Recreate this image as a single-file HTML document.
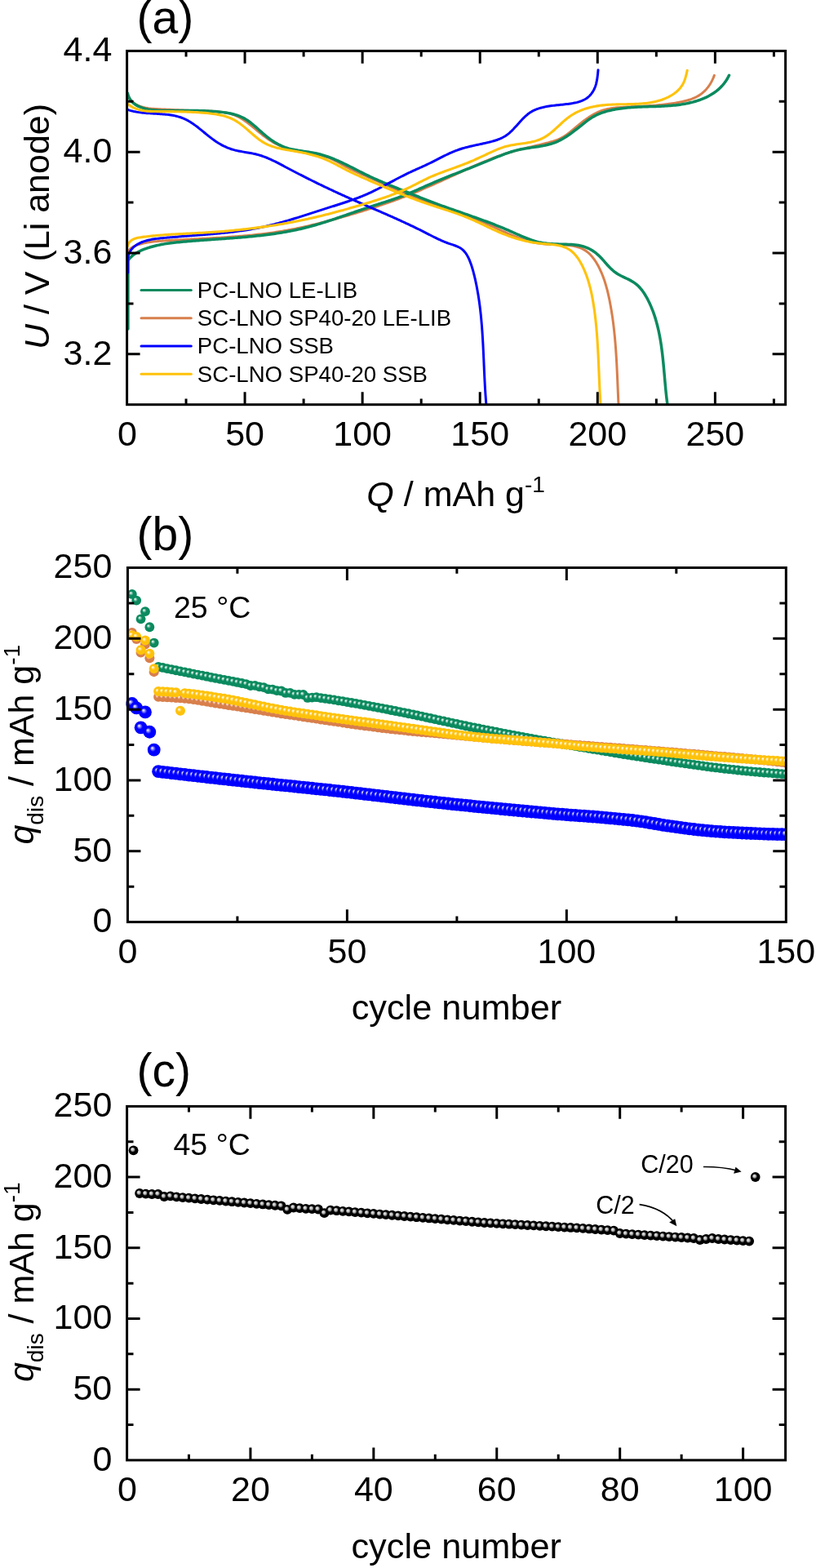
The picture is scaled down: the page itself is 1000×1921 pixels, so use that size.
<!DOCTYPE html>
<html lang="en"><head><meta charset="utf-8"><title>Figure</title><style>html,body{margin:0;padding:0;background:#fff}svg{display:block}</style></head><body><svg width="1000" height="1921" viewBox="0 0 1000 1921" font-family='"Liberation Sans", Arial, sans-serif' fill="#000"><rect width="1000" height="1921" fill="#fff"/><defs><radialGradient id="gG" cx="0.5" cy="0.5" r="0.5" fx="0.345" fy="0.345"><stop offset="0" stop-color="#f3f9f7"/><stop offset="0.09" stop-color="#daede7"/><stop offset="0.27" stop-color="#6cb99e"/><stop offset="0.46" stop-color="#0a8a5e"/><stop offset="1" stop-color="#0a8a5e"/></radialGradient><radialGradient id="gO" cx="0.5" cy="0.5" r="0.5" fx="0.345" fy="0.345"><stop offset="0" stop-color="#fdf9f6"/><stop offset="0.09" stop-color="#f9ece4"/><stop offset="0.27" stop-color="#e8b294"/><stop offset="0.46" stop-color="#d87f4c"/><stop offset="1" stop-color="#d87f4c"/></radialGradient><radialGradient id="gB" cx="0.5" cy="0.5" r="0.5" fx="0.345" fy="0.345"><stop offset="0" stop-color="#f2f2ff"/><stop offset="0.09" stop-color="#d9d9ff"/><stop offset="0.27" stop-color="#6666ff"/><stop offset="0.46" stop-color="#0000ff"/><stop offset="1" stop-color="#0000ff"/></radialGradient><radialGradient id="gY" cx="0.5" cy="0.5" r="0.5" fx="0.345" fy="0.345"><stop offset="0" stop-color="#fffcf3"/><stop offset="0.09" stop-color="#fff6da"/><stop offset="0.27" stop-color="#ffda6c"/><stop offset="0.46" stop-color="#ffc20a"/><stop offset="1" stop-color="#ffc20a"/></radialGradient><radialGradient id="gK" cx="0.5" cy="0.5" r="0.5" fx="0.36" fy="0.36"><stop offset="0" stop-color="#e6e6e6"/><stop offset="0.2" stop-color="#d0d0d0"/><stop offset="0.36" stop-color="#8a8a8a"/><stop offset="0.5" stop-color="#1a1a1a"/><stop offset="0.58" stop-color="#000"/><stop offset="1" stop-color="#000"/></radialGradient><clipPath id="clipA"><rect x="155.6" y="62.4" width="807.0" height="433.3"/></clipPath><clipPath id="clipB"><rect x="154.45" y="695.5" width="807.55" height="434.0999999999999"/></clipPath></defs>
<g fill="none" stroke-linecap="round" stroke-linejoin="round" clip-path="url(#clipA)">
<path d="M156.30,311.90L156.66,309.68L157.36,307.78L158.33,306.18L159.54,304.83L160.95,303.68L162.50,302.71L164.15,301.87L165.87,301.13L167.61,300.44L169.38,299.82L171.16,299.25L172.97,298.73L174.80,298.26L176.64,297.84L178.51,297.46L180.38,297.11L182.27,296.80L184.18,296.53L186.09,296.28L188.01,296.06L189.94,295.86L191.88,295.68L193.82,295.52L195.77,295.37L197.72,295.23L199.67,295.10L201.62,294.97L203.57,294.84L205.51,294.71L207.46,294.59L209.41,294.47L211.36,294.35L213.30,294.24L215.25,294.12L217.19,294.01L219.14,293.90L221.08,293.79L223.03,293.68L224.97,293.57L226.91,293.47L228.86,293.36L230.80,293.26L232.74,293.16L234.68,293.05L236.62,292.95L238.56,292.85L240.50,292.75L242.43,292.64L244.37,292.54L246.31,292.44L248.24,292.33L250.18,292.23L252.11,292.13L254.05,292.02L255.98,291.91L257.92,291.81L259.85,291.70L261.78,291.59L263.71,291.47L265.64,291.36L267.57,291.25L269.50,291.13L271.43,291.01L273.36,290.89L275.29,290.76L277.21,290.63L279.14,290.50L281.07,290.37L282.99,290.23L284.92,290.10L286.84,289.95L288.76,289.81L290.68,289.66L292.61,289.51L294.53,289.35L296.45,289.19L298.37,289.02L300.29,288.85L302.21,288.68L304.12,288.50L306.04,288.32L307.96,288.13L309.87,287.94L311.79,287.74L313.70,287.54L315.61,287.33L317.53,287.11L319.44,286.89L321.35,286.67L323.26,286.44L325.17,286.20L327.08,285.95L328.99,285.70L330.90,285.45L332.80,285.18L334.71,284.91L336.62,284.64L338.52,284.35L340.43,284.06L342.33,283.76L344.23,283.45L346.13,283.14L348.03,282.82L349.93,282.49L351.83,282.15L353.73,281.80L355.63,281.45L357.53,281.09L359.43,280.72L361.32,280.35L363.22,279.96L365.11,279.57L367.00,279.17L368.89,278.77L370.79,278.36L372.68,277.94L374.57,277.52L376.46,277.09L378.34,276.65L380.23,276.21L382.12,275.77L384.00,275.31L385.88,274.86L387.77,274.39L389.65,273.92L391.53,273.45L393.41,272.97L395.29,272.49L397.17,272.00L399.05,271.51L400.92,271.01L402.80,270.51L404.67,270.01L406.54,269.50L408.41,268.99L410.29,268.47L412.15,267.96L414.02,267.43L415.89,266.91L417.76,266.38L419.62,265.85L421.48,265.32L423.35,264.78L425.21,264.24L427.07,263.70L428.93,263.16L430.79,262.61L432.64,262.07L434.50,261.52L436.35,260.96L438.20,260.41L440.05,259.85L441.90,259.29L443.75,258.72L445.60,258.15L447.45,257.58L449.29,257.01L451.13,256.43L452.97,255.85L454.81,255.26L456.65,254.67L458.49,254.08L460.32,253.48L462.15,252.88L463.98,252.27L465.81,251.67L467.64,251.05L469.47,250.43L471.29,249.81L473.11,249.18L474.94,248.55L476.75,247.91L478.57,247.27L480.39,246.62L482.20,245.97L484.01,245.31L485.82,244.65L487.63,243.98L489.43,243.31L491.24,242.63L493.04,241.94L494.84,241.25L496.63,240.55L498.43,239.85L500.22,239.14L502.01,238.43L503.80,237.70L505.59,236.98L507.37,236.24L509.15,235.51L510.93,234.76L512.71,234.02L514.49,233.26L516.27,232.51L518.04,231.74L519.82,230.98L521.59,230.21L523.36,229.44L525.13,228.66L526.90,227.88L528.66,227.10L530.43,226.31L532.20,225.52L533.96,224.73L535.73,223.93L537.49,223.14L539.25,222.34L541.01,221.54L542.78,220.74L544.54,219.94L546.30,219.13L548.06,218.33L549.82,217.52L551.59,216.71L553.35,215.91L555.11,215.10L556.87,214.29L558.63,213.49L560.40,212.68L562.16,211.88L563.92,211.07L565.69,210.27L567.45,209.47L569.22,208.66L570.98,207.87L572.75,207.07L574.52,206.27L576.29,205.48L578.06,204.69L579.83,203.90L581.61,203.12L583.38,202.34L585.16,201.56L586.94,200.79L588.72,200.03L590.50,199.27L592.28,198.52L594.07,197.77L595.86,197.03L597.65,196.30L599.44,195.58L601.24,194.87L603.04,194.17L604.84,193.48L606.65,192.79L608.46,192.12L610.27,191.46L612.08,190.82L613.90,190.18L615.72,189.56L617.55,188.95L619.38,188.35L621.22,187.77L623.05,187.21L624.89,186.65L626.74,186.11L628.59,185.58L630.44,185.07L632.30,184.56L634.16,184.06L636.02,183.57L637.89,183.09L639.75,182.61L641.62,182.14L643.50,181.68L645.37,181.22L647.25,180.77L649.13,180.32L651.02,179.87L652.90,179.42L654.79,178.97L656.68,178.53L658.57,178.08L660.46,177.63L662.35,177.18L664.25,176.72L666.14,176.27L668.04,175.80L669.93,175.32L671.81,174.83L673.69,174.32L675.56,173.78L677.41,173.21L679.24,172.60L681.05,171.96L682.84,171.28L684.60,170.54L686.34,169.75L688.05,168.91L689.72,168.00L691.35,167.03L692.95,166.00L694.52,164.90L696.06,163.76L697.58,162.58L699.09,161.37L700.60,160.14L702.09,158.89L703.59,157.63L705.10,156.38L706.60,155.12L708.12,153.87L709.64,152.62L711.17,151.39L712.70,150.17L714.25,148.97L715.81,147.78L717.38,146.62L718.96,145.48L720.56,144.37L722.17,143.29L723.79,142.25L725.43,141.25L727.09,140.28L728.77,139.36L730.47,138.48L732.18,137.66L733.92,136.89L735.68,136.17L737.46,135.51L739.27,134.91L741.10,134.38L742.95,133.90L744.82,133.47L746.71,133.10L748.61,132.77L750.53,132.48L752.46,132.23L754.40,132.02L756.35,131.83L758.30,131.67L760.27,131.53L762.23,131.41L764.19,131.30L766.15,131.20L768.11,131.11L770.07,131.02L772.02,130.93L773.96,130.85L775.90,130.76L777.84,130.66L779.77,130.57L781.69,130.48L783.62,130.38L785.54,130.28L787.46,130.17L789.37,130.06L791.29,129.94L793.20,129.82L795.11,129.70L797.01,129.56L798.92,129.42L800.83,129.28L802.74,129.12L804.64,128.96L806.55,128.78L808.46,128.60L810.37,128.40L812.28,128.20L814.19,127.98L816.10,127.76L818.02,127.52L819.94,127.26L821.86,127.00L823.78,126.72L825.71,126.42L827.64,126.11L829.57,125.79L831.51,125.44L833.45,125.07L835.38,124.68L837.30,124.26L839.21,123.80L841.11,123.31L842.99,122.78L844.84,122.20L846.68,121.58L848.49,120.91L850.26,120.18L852.01,119.39L853.72,118.54L855.39,117.63L857.01,116.65L858.59,115.59L860.12,114.46L861.60,113.25L863.03,111.96L864.39,110.59L865.70,109.15L866.95,107.65L868.15,106.10L869.28,104.49L870.34,102.84L871.35,101.15L872.28,99.44L873.16,97.69L873.96,95.93L874.69,94.16L875.36,92.38" stroke="#d87f4c" stroke-width="3.0"/>
<path d="M156.32,115.96L157.29,118.02L158.38,119.91L159.57,121.63L160.85,123.19L162.23,124.61L163.69,125.88L165.23,127.03L166.85,128.04L168.54,128.94L170.29,129.74L172.10,130.43L173.96,131.03L175.87,131.54L177.82,131.98L179.80,132.35L181.81,132.66L183.85,132.91L185.91,133.12L187.97,133.29L190.05,133.44L192.13,133.56L194.20,133.67L196.26,133.78L198.31,133.88L200.35,133.98L202.37,134.08L204.39,134.18L206.40,134.28L208.40,134.37L210.40,134.47L212.39,134.56L214.37,134.65L216.35,134.74L218.33,134.82L220.30,134.91L222.27,134.99L224.25,135.07L226.22,135.15L228.19,135.23L230.16,135.31L232.14,135.38L234.12,135.45L236.11,135.52L238.10,135.59L240.09,135.66L242.10,135.72L244.11,135.78L246.13,135.84L248.16,135.90L250.20,135.96L252.25,136.01L254.31,136.07L256.38,136.14L258.45,136.21L260.52,136.30L262.58,136.41L264.65,136.54L266.71,136.70L268.76,136.89L270.80,137.12L272.83,137.38L274.84,137.69L276.83,138.04L278.80,138.45L280.75,138.91L282.68,139.43L284.57,140.01L286.44,140.66L288.27,141.38L290.07,142.17L291.84,143.03L293.58,143.95L295.30,144.93L296.99,145.96L298.66,147.04L300.30,148.17L301.93,149.33L303.55,150.53L305.15,151.76L306.74,153.02L308.32,154.30L309.89,155.59L311.46,156.89L313.03,158.20L314.59,159.52L316.16,160.83L317.74,162.13L319.32,163.42L320.91,164.70L322.50,165.95L324.12,167.18L325.75,168.38L327.39,169.54L329.05,170.68L330.73,171.77L332.42,172.84L334.13,173.87L335.86,174.86L337.60,175.82L339.36,176.74L341.14,177.63L342.93,178.48L344.74,179.29L346.56,180.07L348.40,180.81L350.25,181.51L352.12,182.17L354.01,182.80L355.91,183.38L357.83,183.93L359.76,184.44L361.71,184.90L363.67,185.33L365.65,185.72L367.64,186.08L369.64,186.41L371.64,186.72L373.65,187.02L375.67,187.30L377.69,187.59L379.71,187.87L381.72,188.17L383.73,188.47L385.74,188.80L387.74,189.15L389.72,189.52L391.70,189.94L393.66,190.39L395.60,190.89L397.53,191.44L399.43,192.05L401.32,192.71L403.18,193.44L405.02,194.23L406.85,195.06L408.66,195.93L410.46,196.83L412.24,197.77L414.02,198.73L415.80,199.70L417.57,200.69L419.34,201.67L421.11,202.66L422.89,203.64L424.67,204.60L426.46,205.54L428.25,206.46L430.06,207.36L431.87,208.25L433.68,209.12L435.50,209.97L437.33,210.82L439.16,211.65L440.99,212.48L442.83,213.29L444.67,214.11L446.51,214.92L448.35,215.72L450.19,216.53L452.03,217.34L453.87,218.15L455.71,218.96L457.55,219.78L459.39,220.59L461.23,221.41L463.07,222.22L464.91,223.04L466.75,223.86L468.60,224.67L470.44,225.49L472.28,226.30L474.12,227.11L475.97,227.93L477.81,228.74L479.65,229.55L481.50,230.35L483.35,231.16L485.20,231.96L487.04,232.76L488.90,233.56L490.75,234.35L492.60,235.14L494.45,235.93L496.31,236.71L498.17,237.49L500.03,238.26L501.89,239.03L503.75,239.80L505.62,240.56L507.48,241.31L509.35,242.06L511.22,242.80L513.10,243.54L514.97,244.27L516.85,244.99L518.73,245.71L520.62,246.42L522.50,247.12L524.39,247.82L526.28,248.51L528.17,249.19L530.07,249.86L531.97,250.53L533.87,251.19L535.77,251.85L537.68,252.50L539.58,253.15L541.49,253.79L543.40,254.44L545.30,255.08L547.21,255.72L549.12,256.36L551.03,257.00L552.94,257.64L554.85,258.29L556.75,258.93L558.66,259.58L560.56,260.23L562.47,260.88L564.37,261.54L566.27,262.20L568.17,262.87L570.06,263.55L571.96,264.23L573.85,264.92L575.74,265.62L577.62,266.33L579.50,267.05L581.38,267.77L583.25,268.51L585.12,269.26L586.99,270.02L588.85,270.80L590.70,271.58L592.55,272.38L594.40,273.19L596.24,274.02L598.08,274.85L599.92,275.68L601.76,276.53L603.59,277.38L605.42,278.23L607.25,279.08L609.08,279.94L610.91,280.79L612.74,281.64L614.57,282.49L616.40,283.33L618.23,284.16L620.07,284.99L621.91,285.81L623.75,286.61L625.60,287.41L627.44,288.19L629.30,288.96L631.16,289.71L633.02,290.44L634.89,291.15L636.76,291.84L638.65,292.52L640.54,293.16L642.43,293.79L644.34,294.38L646.25,294.95L648.18,295.49L650.11,296.00L652.05,296.48L654.00,296.93L655.97,297.34L657.94,297.71L659.93,298.05L661.93,298.35L663.94,298.61L665.96,298.83L668.00,299.00L670.05,299.15L672.10,299.27L674.17,299.36L676.23,299.44L678.30,299.51L680.37,299.57L682.44,299.63L684.51,299.69L686.57,299.77L688.63,299.86L690.68,299.97L692.72,300.10L694.74,300.27L696.75,300.48L698.75,300.73L700.73,301.03L702.68,301.38L704.62,301.80L706.54,302.27L708.42,302.82L710.28,303.45L712.10,304.15L713.86,304.95L715.57,305.85L717.22,306.85L718.80,307.95L720.32,309.15L721.79,310.42L723.19,311.78L724.54,313.21L725.83,314.71L727.07,316.28L728.26,317.89L729.40,319.56L730.50,321.26L731.55,323.01L732.56,324.78L733.52,326.58L734.45,328.39L735.34,330.22L736.19,332.06L737.01,333.92L737.80,335.78L738.55,337.66L739.27,339.55L739.96,341.45L740.62,343.36L741.25,345.28L741.86,347.21L742.44,349.14L743.00,351.08L743.54,353.03L744.05,354.99L744.55,356.95L745.02,358.91L745.48,360.88L745.92,362.85L746.35,364.83L746.76,366.81L747.16,368.78L747.55,370.77L747.92,372.75L748.29,374.73L748.64,376.71L748.99,378.70L749.32,380.68L749.64,382.67L749.95,384.66L750.25,386.65L750.55,388.64L750.83,390.63L751.10,392.62L751.37,394.61L751.62,396.60L751.87,398.60L752.11,400.59L752.34,402.59L752.56,404.59L752.78,406.58L752.99,408.58L753.19,410.58L753.38,412.58L753.57,414.58L753.75,416.58L753.92,418.58L754.09,420.59L754.25,422.59L754.40,424.59L754.56,426.60L754.70,428.60L754.84,430.61L754.97,432.62L755.10,434.62L755.23,436.63L755.35,438.64L755.47,440.65L755.58,442.66L755.69,444.67L755.80,446.68L755.90,448.69L756.01,450.70L756.10,452.71L756.20,454.72L756.29,456.73L756.39,458.74L756.48,460.76L756.56,462.77L756.65,464.78L756.74,466.80L756.82,468.81L756.91,470.82L756.99,472.84L757.08,474.85L757.16,476.87L757.24,478.88L757.33,480.89L757.41,482.91L757.50,484.92L757.59,486.94L757.67,488.95L757.76,490.97L757.86,492.98L757.95,495.00L758.05,497.01" stroke="#d87f4c" stroke-width="3.0"/>
<path d="M156.61,319.53L157.80,317.88L159.08,316.35L160.44,314.93L161.87,313.61L163.37,312.39L164.93,311.26L166.54,310.21L168.21,309.23L169.91,308.32L171.65,307.48L173.42,306.68L175.21,305.93L177.01,305.22L178.83,304.55L180.66,303.91L182.50,303.31L184.36,302.74L186.23,302.21L188.11,301.70L189.99,301.22L191.89,300.77L193.80,300.35L195.72,299.95L197.65,299.57L199.58,299.22L201.52,298.89L203.47,298.58L205.42,298.29L207.38,298.01L209.35,297.75L211.32,297.51L213.29,297.28L215.26,297.06L217.24,296.85L219.22,296.65L221.21,296.46L223.19,296.27L225.17,296.09L227.15,295.92L229.14,295.74L231.12,295.58L233.10,295.41L235.09,295.25L237.07,295.09L239.05,294.94L241.03,294.78L243.01,294.63L245.00,294.49L246.98,294.34L248.96,294.20L250.94,294.05L252.92,293.91L254.90,293.77L256.88,293.63L258.86,293.49L260.83,293.36L262.81,293.22L264.79,293.08L266.76,292.94L268.74,292.81L270.72,292.67L272.69,292.53L274.67,292.39L276.64,292.25L278.61,292.11L280.58,291.96L282.56,291.82L284.53,291.67L286.50,291.52L288.47,291.37L290.43,291.21L292.40,291.05L294.37,290.89L296.33,290.73L298.30,290.56L300.26,290.39L302.22,290.22L304.19,290.04L306.15,289.85L308.11,289.66L310.06,289.47L312.02,289.27L313.98,289.07L315.93,288.86L317.89,288.65L319.84,288.43L321.79,288.20L323.74,287.97L325.69,287.73L327.64,287.49L329.58,287.23L331.53,286.97L333.47,286.71L335.42,286.43L337.36,286.15L339.30,285.86L341.23,285.56L343.17,285.26L345.11,284.94L347.04,284.62L348.97,284.29L350.90,283.94L352.83,283.59L354.76,283.23L356.68,282.86L358.61,282.48L360.53,282.09L362.45,281.69L364.37,281.28L366.28,280.85L368.20,280.42L370.11,279.97L372.02,279.52L373.93,279.05L375.84,278.57L377.75,278.07L379.65,277.57L381.55,277.05L383.45,276.53L385.35,275.99L387.25,275.45L389.15,274.89L391.04,274.33L392.93,273.76L394.82,273.18L396.71,272.59L398.60,271.99L400.49,271.39L402.38,270.78L404.26,270.17L406.14,269.55L408.03,268.93L409.91,268.30L411.79,267.67L413.67,267.03L415.55,266.39L417.43,265.75L419.30,265.11L421.18,264.46L423.06,263.81L424.93,263.16L426.81,262.51L428.68,261.86L430.56,261.21L432.43,260.56L434.31,259.92L436.18,259.27L438.05,258.63L439.92,257.98L441.80,257.34L443.67,256.71L445.54,256.08L447.42,255.45L449.29,254.82L451.16,254.20L453.03,253.59L454.91,252.98L456.78,252.37L458.65,251.77L460.52,251.17L462.40,250.57L464.27,249.97L466.13,249.37L468.00,248.76L469.87,248.16L471.74,247.56L473.60,246.95L475.46,246.33L477.32,245.72L479.18,245.09L481.04,244.47L482.89,243.83L484.74,243.19L486.59,242.54L488.44,241.88L490.28,241.21L492.12,240.53L493.96,239.83L495.79,239.13L497.62,238.41L499.45,237.69L501.27,236.94L503.09,236.19L504.90,235.42L506.71,234.64L508.53,233.85L510.33,233.06L512.14,232.26L513.95,231.45L515.75,230.64L517.56,229.84L519.37,229.03L521.17,228.22L522.98,227.41L524.79,226.61L526.61,225.82L528.42,225.03L530.24,224.25L532.06,223.47L533.88,222.70L535.70,221.93L537.52,221.17L539.35,220.41L541.17,219.65L543.00,218.90L544.83,218.16L546.66,217.41L548.49,216.67L550.33,215.93L552.16,215.20L553.99,214.47L555.83,213.74L557.66,213.01L559.50,212.28L561.34,211.56L563.17,210.83L565.01,210.11L566.84,209.39L568.68,208.67L570.52,207.95L572.35,207.23L574.19,206.51L576.03,205.78L577.86,205.06L579.69,204.34L581.53,203.61L583.36,202.89L585.19,202.16L587.02,201.43L588.85,200.70L590.68,199.96L592.51,199.23L594.33,198.49L596.16,197.75L597.98,197.00L599.80,196.25L601.62,195.50L603.43,194.74L605.25,193.99L607.07,193.23L608.89,192.48L610.71,191.74L612.53,191.01L614.36,190.29L616.19,189.58L618.03,188.88L619.88,188.20L621.73,187.55L623.59,186.91L625.45,186.29L627.33,185.71L629.22,185.15L631.11,184.62L633.02,184.12L634.95,183.65L636.88,183.22L638.83,182.82L640.79,182.45L642.75,182.11L644.72,181.78L646.70,181.47L648.68,181.17L650.67,180.88L652.65,180.60L654.63,180.31L656.61,180.02L658.59,179.72L660.56,179.41L662.52,179.08L664.47,178.73L666.42,178.36L668.35,177.96L670.26,177.53L672.16,177.06L674.04,176.56L675.91,176.01L677.75,175.41L679.57,174.76L681.37,174.05L683.14,173.29L684.89,172.48L686.63,171.61L688.34,170.71L690.03,169.75L691.70,168.76L693.36,167.73L695.01,166.67L696.64,165.58L698.26,164.45L699.86,163.30L701.46,162.13L703.04,160.93L704.62,159.72L706.19,158.50L707.76,157.26L709.32,156.01L710.88,154.76L712.44,153.51L714.00,152.26L715.56,151.02L717.13,149.80L718.71,148.59L720.31,147.42L721.92,146.28L723.55,145.17L725.21,144.11L726.89,143.10L728.59,142.15L730.33,141.25L732.09,140.42L733.88,139.63L735.70,138.90L737.53,138.21L739.38,137.57L741.25,136.98L743.13,136.42L745.03,135.91L746.93,135.43L748.85,134.99L750.77,134.57L752.69,134.19L754.62,133.84L756.55,133.51L758.48,133.20L760.42,132.93L762.36,132.67L764.31,132.44L766.26,132.22L768.21,132.03L770.16,131.85L772.12,131.69L774.08,131.55L776.04,131.42L778.00,131.30L779.97,131.20L781.94,131.10L783.91,131.02L785.88,130.94L787.85,130.87L789.83,130.80L791.80,130.74L793.78,130.68L795.75,130.62L797.73,130.57L799.71,130.51L801.69,130.45L803.67,130.39L805.65,130.32L807.63,130.24L809.61,130.16L811.59,130.07L813.57,129.97L815.55,129.86L817.52,129.74L819.50,129.60L821.48,129.45L823.45,129.28L825.42,129.10L827.40,128.90L829.37,128.67L831.33,128.43L833.30,128.16L835.26,127.87L837.23,127.56L839.19,127.22L841.14,126.85L843.10,126.45L845.04,126.02L846.99,125.56L848.92,125.08L850.84,124.55L852.75,124.00L854.65,123.41L856.53,122.78L858.39,122.11L860.24,121.41L862.06,120.67L863.86,119.89L865.64,119.07L867.39,118.20L869.12,117.29L870.81,116.34L872.48,115.34L874.11,114.29L875.71,113.20L877.27,112.06L878.79,110.87L880.27,109.62L881.72,108.33L883.12,106.98L884.47,105.58L885.78,104.12L887.04,102.61L888.25,101.04L889.41,99.41L890.51,97.72L891.57,95.97L892.56,94.16L893.50,92.29" stroke="#0a8a5e" stroke-width="3.5"/>
<path d="M156.45,114.35L157.06,116.65L157.86,118.77L158.83,120.72L159.96,122.49L161.24,124.11L162.65,125.57L164.19,126.90L165.83,128.09L167.56,129.16L169.38,130.11L171.27,130.95L173.21,131.70L175.19,132.36L177.21,132.94L179.24,133.45L181.29,133.89L183.36,134.26L185.44,134.58L187.53,134.85L189.63,135.06L191.74,135.24L193.86,135.37L195.98,135.47L198.11,135.54L200.25,135.58L202.38,135.60L204.52,135.60L206.65,135.60L208.78,135.58L210.91,135.56L213.03,135.55L215.15,135.53L217.26,135.51L219.37,135.50L221.48,135.49L223.58,135.48L225.68,135.47L227.78,135.47L229.87,135.47L231.97,135.48L234.06,135.50L236.15,135.52L238.24,135.54L240.33,135.58L242.42,135.62L244.52,135.67L246.61,135.73L248.70,135.80L250.80,135.87L252.90,135.96L255.00,136.06L257.10,136.18L259.21,136.30L261.32,136.44L263.44,136.59L265.56,136.75L267.68,136.93L269.79,137.14L271.91,137.37L274.01,137.63L276.11,137.93L278.20,138.26L280.28,138.63L282.34,139.05L284.38,139.51L286.40,140.02L288.40,140.59L290.38,141.22L292.32,141.91L294.24,142.66L296.13,143.49L297.98,144.38L299.80,145.35L301.58,146.40L303.32,147.53L305.03,148.72L306.72,149.96L308.38,151.26L310.02,152.60L311.64,153.98L313.26,155.38L314.86,156.81L316.46,158.25L318.06,159.69L319.66,161.14L321.27,162.58L322.89,164.00L324.53,165.40L326.18,166.77L327.85,168.10L329.55,169.40L331.26,170.66L333.00,171.88L334.75,173.05L336.53,174.18L338.33,175.26L340.15,176.28L342.00,177.26L343.86,178.17L345.76,179.03L347.67,179.82L349.62,180.55L351.58,181.21L353.57,181.82L355.59,182.36L357.62,182.85L359.66,183.30L361.73,183.71L363.80,184.09L365.89,184.44L367.98,184.77L370.08,185.09L372.18,185.40L374.29,185.70L376.39,186.01L378.49,186.33L380.59,186.66L382.68,187.01L384.76,187.39L386.83,187.81L388.88,188.26L390.92,188.75L392.95,189.28L394.97,189.85L396.97,190.45L398.96,191.09L400.94,191.75L402.91,192.45L404.87,193.18L406.82,193.93L408.76,194.71L410.70,195.51L412.62,196.33L414.54,197.18L416.46,198.04L418.36,198.92L420.26,199.82L422.16,200.73L424.06,201.65L425.95,202.58L427.83,203.52L429.72,204.47L431.60,205.42L433.48,206.38L435.36,207.34L437.24,208.30L439.13,209.26L441.01,210.22L442.89,211.17L444.78,212.12L446.67,213.06L448.57,213.99L450.47,214.91L452.37,215.81L454.28,216.71L456.19,217.59L458.10,218.47L460.02,219.33L461.94,220.19L463.87,221.04L465.80,221.87L467.73,222.71L469.67,223.53L471.61,224.35L473.55,225.16L475.49,225.96L477.43,226.77L479.38,227.56L481.33,228.36L483.28,229.15L485.23,229.94L487.18,230.72L489.14,231.51L491.09,232.29L493.04,233.07L495.00,233.86L496.95,234.64L498.91,235.43L500.86,236.22L502.81,237.01L504.77,237.80L506.72,238.59L508.67,239.39L510.63,240.18L512.58,240.97L514.54,241.76L516.49,242.54L518.45,243.32L520.41,244.10L522.37,244.87L524.33,245.64L526.30,246.40L528.26,247.15L530.23,247.90L532.20,248.64L534.17,249.38L536.15,250.11L538.12,250.83L540.10,251.55L542.08,252.27L544.05,252.98L546.03,253.69L548.02,254.39L550.00,255.10L551.98,255.80L553.96,256.50L555.95,257.19L557.93,257.89L559.92,258.58L561.90,259.27L563.89,259.96L565.87,260.66L567.86,261.35L569.84,262.04L571.83,262.74L573.81,263.43L575.80,264.13L577.78,264.82L579.76,265.53L581.75,266.23L583.73,266.93L585.71,267.64L587.69,268.36L589.67,269.07L591.65,269.79L593.62,270.52L595.60,271.25L597.57,271.99L599.54,272.73L601.51,273.47L603.48,274.23L605.44,274.99L607.41,275.76L609.37,276.53L611.33,277.31L613.29,278.10L615.24,278.90L617.19,279.71L619.14,280.52L621.09,281.35L623.03,282.19L624.97,283.03L626.91,283.89L628.85,284.75L630.78,285.62L632.71,286.48L634.65,287.35L636.58,288.20L638.52,289.05L640.45,289.88L642.40,290.69L644.34,291.48L646.29,292.25L648.25,292.99L650.21,293.70L652.18,294.37L654.16,295.00L656.15,295.58L658.15,296.13L660.16,296.62L662.18,297.05L664.21,297.44L666.25,297.78L668.31,298.07L670.38,298.33L672.47,298.54L674.57,298.71L676.69,298.85L678.82,298.96L680.96,299.04L683.12,299.10L685.29,299.14L687.46,299.18L689.64,299.21L691.82,299.25L693.99,299.31L696.16,299.38L698.32,299.48L700.47,299.60L702.61,299.77L704.73,299.98L706.82,300.24L708.90,300.57L710.95,300.95L712.97,301.41L714.95,301.94L716.91,302.56L718.82,303.27L720.70,304.08L722.54,304.98L724.33,305.97L726.08,307.05L727.79,308.21L729.46,309.44L731.09,310.74L732.68,312.11L734.23,313.54L735.74,315.02L737.21,316.55L738.64,318.12L740.04,319.71L741.43,321.32L742.81,322.92L744.21,324.50L745.63,326.05L747.07,327.55L748.56,329.01L750.08,330.41L751.64,331.76L753.26,333.05L754.92,334.27L756.65,335.43L758.44,336.51L760.29,337.53L762.19,338.50L764.11,339.43L766.05,340.35L767.99,341.27L769.93,342.20L771.83,343.15L773.70,344.16L775.51,345.22L777.26,346.36L778.93,347.59L780.53,348.90L782.05,350.30L783.50,351.76L784.88,353.29L786.21,354.89L787.47,356.54L788.68,358.24L789.84,359.99L790.94,361.77L792.00,363.59L793.02,365.44L794.00,367.30L794.95,369.19L795.86,371.08L796.74,372.99L797.59,374.91L798.41,376.84L799.19,378.78L799.95,380.73L800.68,382.69L801.38,384.66L802.06,386.65L802.71,388.64L803.33,390.64L803.92,392.65L804.50,394.66L805.05,396.69L805.57,398.72L806.08,400.76L806.56,402.81L807.03,404.86L807.47,406.92L807.89,408.99L808.30,411.06L808.69,413.14L809.06,415.22L809.41,417.31L809.75,419.40L810.08,421.50L810.39,423.60L810.69,425.70L810.97,427.81L811.24,429.92L811.51,432.03L811.76,434.15L812.00,436.26L812.23,438.38L812.46,440.50L812.67,442.62L812.89,444.74L813.09,446.86L813.29,448.97L813.49,451.09L813.68,453.21L813.86,455.33L814.05,457.44L814.24,459.56L814.42,461.67L814.60,463.78L814.79,465.89L814.97,467.99L815.16,470.09L815.35,472.19L815.54,474.28L815.74,476.36L815.94,478.45L816.15,480.52L816.37,482.60L816.59,484.66L816.82,486.72L817.06,488.78L817.31,490.82L817.57,492.86L817.84,494.90L818.12,496.92" stroke="#0a8a5e" stroke-width="3.5"/>
<path d="M156.9,403V320" stroke="#0a8a5e" stroke-width="3.5"/>
<path d="M156.91,315.08L157.31,313.31L157.82,311.64L158.44,310.06L159.17,308.57L160.00,307.18L160.92,305.86L161.92,304.63L163.00,303.48L164.16,302.40L165.38,301.40L166.66,300.46L168.00,299.60L169.38,298.80L170.80,298.05L172.25,297.37L173.73,296.74L175.24,296.16L176.75,295.63L178.29,295.15L179.83,294.71L181.39,294.31L182.96,293.95L184.54,293.62L186.12,293.32L187.72,293.05L189.32,292.80L190.93,292.58L192.55,292.37L194.17,292.18L195.79,292.01L197.42,291.84L199.04,291.69L200.67,291.53L202.30,291.38L203.93,291.24L205.55,291.09L207.18,290.95L208.81,290.81L210.43,290.67L212.06,290.53L213.69,290.40L215.31,290.26L216.94,290.13L218.57,290.00L220.19,289.87L221.82,289.75L223.44,289.62L225.07,289.49L226.69,289.37L228.31,289.24L229.94,289.12L231.56,288.99L233.19,288.87L234.81,288.75L236.43,288.62L238.05,288.50L239.68,288.37L241.30,288.25L242.92,288.12L244.54,287.99L246.16,287.86L247.78,287.74L249.40,287.61L251.01,287.47L252.63,287.34L254.25,287.21L255.87,287.07L257.48,286.93L259.10,286.79L260.71,286.65L262.33,286.50L263.94,286.35L265.56,286.20L267.17,286.05L268.78,285.89L270.39,285.73L272.00,285.57L273.61,285.40L275.22,285.24L276.83,285.06L278.44,284.89L280.05,284.70L281.65,284.52L283.26,284.33L284.86,284.14L286.47,283.94L288.07,283.74L289.67,283.53L291.27,283.32L292.87,283.10L294.47,282.88L296.07,282.65L297.67,282.42L299.26,282.18L300.86,281.94L302.45,281.69L304.05,281.43L305.64,281.17L307.23,280.90L308.82,280.63L310.41,280.35L312.00,280.06L313.59,279.77L315.18,279.47L316.76,279.16L318.35,278.84L319.93,278.52L321.51,278.19L323.09,277.85L324.67,277.51L326.25,277.15L327.83,276.79L329.40,276.42L330.98,276.04L332.55,275.66L334.12,275.27L335.70,274.87L337.27,274.47L338.84,274.06L340.41,273.64L341.97,273.22L343.54,272.79L345.11,272.36L346.67,271.92L348.23,271.48L349.80,271.03L351.36,270.58L352.92,270.12L354.48,269.66L356.04,269.19L357.60,268.73L359.16,268.25L360.72,267.78L362.28,267.30L363.83,266.81L365.39,266.33L366.94,265.84L368.50,265.35L370.05,264.86L371.61,264.37L373.16,263.87L374.71,263.37L376.27,262.87L377.82,262.37L379.37,261.87L380.92,261.37L382.47,260.87L384.02,260.37L385.57,259.87L387.12,259.37L388.67,258.86L390.22,258.36L391.77,257.86L393.32,257.36L394.87,256.87L396.41,256.37L397.96,255.88L399.51,255.38L401.06,254.89L402.61,254.40L404.15,253.92L405.70,253.43L407.25,252.94L408.79,252.46L410.34,251.97L411.88,251.48L413.43,250.99L414.97,250.50L416.51,250.01L418.05,249.52L419.59,249.02L421.12,248.52L422.66,248.01L424.19,247.50L425.72,246.99L427.25,246.47L428.78,245.95L430.30,245.42L431.82,244.88L433.34,244.34L434.86,243.78L436.37,243.23L437.88,242.66L439.39,242.08L440.89,241.50L442.39,240.91L443.89,240.30L445.38,239.69L446.87,239.06L448.36,238.43L449.84,237.78L451.32,237.12L452.79,236.45L454.26,235.77L455.73,235.08L457.19,234.38L458.65,233.67L460.11,232.95L461.57,232.22L463.02,231.49L464.47,230.75L465.92,230.00L467.36,229.25L468.81,228.49L470.25,227.73L471.69,226.97L473.13,226.20L474.57,225.44L476.01,224.67L477.45,223.90L478.89,223.13L480.33,222.35L481.77,221.58L483.21,220.82L484.65,220.05L486.09,219.29L487.53,218.53L488.97,217.77L490.42,217.02L491.86,216.28L493.31,215.54L494.76,214.80L496.21,214.08L497.67,213.36L499.13,212.65L500.59,211.95L502.05,211.26L503.51,210.58L504.98,209.90L506.45,209.23L507.92,208.56L509.39,207.90L510.87,207.24L512.34,206.57L513.81,205.91L515.29,205.25L516.76,204.59L518.23,203.92L519.70,203.24L521.17,202.56L522.63,201.88L524.10,201.18L525.56,200.48L527.02,199.77L528.47,199.04L529.93,198.32L531.38,197.58L532.83,196.84L534.28,196.10L535.73,195.36L537.18,194.61L538.64,193.87L540.09,193.13L541.54,192.40L543.00,191.67L544.46,190.94L545.92,190.23L547.39,189.52L548.86,188.82L550.33,188.14L551.81,187.47L553.29,186.81L554.78,186.17L556.28,185.55L557.78,184.95L559.29,184.36L560.80,183.80L562.32,183.26L563.86,182.75L565.39,182.26L566.94,181.78L568.49,181.33L570.05,180.90L571.62,180.48L573.19,180.08L574.76,179.69L576.34,179.31L577.92,178.95L579.51,178.59L581.10,178.24L582.69,177.89L584.28,177.55L585.88,177.21L587.47,176.87L589.07,176.53L590.66,176.19L592.26,175.84L593.85,175.49L595.44,175.13L597.03,174.76L598.61,174.38L600.20,173.99L601.78,173.59L603.35,173.17L604.91,172.73L606.47,172.26L608.00,171.77L609.53,171.24L611.03,170.68L612.52,170.09L613.98,169.45L615.42,168.77L616.83,168.04L618.21,167.26L619.55,166.43L620.87,165.53L622.15,164.59L623.40,163.59L624.62,162.55L625.82,161.47L627.00,160.35L628.15,159.20L629.30,158.03L630.42,156.83L631.54,155.61L632.65,154.38L633.76,153.15L634.86,151.90L635.96,150.66L637.07,149.43L638.18,148.20L639.30,146.99L640.43,145.80L641.58,144.63L642.74,143.49L643.92,142.38L645.12,141.31L646.35,140.28L647.61,139.30L648.89,138.37L650.21,137.50L651.57,136.68L652.95,135.92L654.37,135.22L655.82,134.56L657.29,133.96L658.79,133.40L660.30,132.89L661.84,132.42L663.39,131.98L664.95,131.59L666.52,131.22L668.10,130.89L669.69,130.58L671.29,130.30L672.89,130.04L674.49,129.81L676.10,129.59L677.72,129.38L679.33,129.19L680.96,129.01L682.58,128.83L684.21,128.66L685.85,128.49L687.48,128.33L689.12,128.16L690.76,127.98L692.41,127.80L694.05,127.61L695.70,127.40L697.34,127.18L698.99,126.94L700.64,126.68L702.29,126.39L703.93,126.08L705.56,125.74L707.18,125.36L708.77,124.93L710.33,124.46L711.87,123.94L713.36,123.37L714.82,122.73L716.22,122.03L717.58,121.26L718.87,120.42L720.11,119.51L721.28,118.53L722.40,117.47L723.46,116.36L724.45,115.18L725.39,113.95L726.26,112.66L727.07,111.32L727.82,109.92L728.51,108.48L729.13,107.00L729.70,105.47L730.20,103.90L730.64,102.31L731.03,100.68L731.37,99.03L731.68,97.37L731.94,95.70L732.17,94.03L732.37,92.36L732.56,90.71L732.72,89.07L732.88,87.45L733.02,85.86" stroke="#0000ff" stroke-width="3.0"/>
<path d="M156.53,134.37L157.99,134.87L159.47,135.33L160.97,135.76L162.48,136.14L164.02,136.50L165.56,136.82L167.12,137.11L168.70,137.38L170.28,137.62L171.88,137.83L173.49,138.03L175.10,138.20L176.73,138.36L178.36,138.50L180.00,138.63L181.65,138.75L183.30,138.86L184.95,138.96L186.61,139.06L188.27,139.15L189.93,139.24L191.59,139.34L193.26,139.43L194.91,139.54L196.57,139.65L198.23,139.76L199.88,139.89L201.52,140.04L203.16,140.19L204.79,140.37L206.42,140.56L208.03,140.78L209.64,141.02L211.23,141.29L212.81,141.58L214.39,141.90L215.94,142.25L217.49,142.64L219.02,143.07L220.53,143.53L222.02,144.03L223.50,144.57L224.96,145.16L226.40,145.79L227.82,146.46L229.22,147.18L230.61,147.93L231.98,148.72L233.34,149.55L234.68,150.41L236.01,151.29L237.33,152.20L238.64,153.14L239.94,154.09L241.24,155.07L242.52,156.06L243.81,157.07L245.08,158.09L246.35,159.12L247.62,160.15L248.89,161.19L250.16,162.24L251.43,163.28L252.70,164.32L253.97,165.35L255.25,166.38L256.53,167.40L257.82,168.41L259.12,169.40L260.42,170.37L261.73,171.32L263.05,172.26L264.39,173.16L265.73,174.05L267.09,174.90L268.46,175.74L269.84,176.54L271.23,177.32L272.64,178.07L274.06,178.79L275.49,179.48L276.94,180.14L278.40,180.77L279.88,181.37L281.36,181.93L282.87,182.47L284.39,182.97L285.92,183.43L287.47,183.87L289.03,184.26L290.61,184.63L292.19,184.97L293.79,185.29L295.40,185.59L297.01,185.87L298.63,186.14L300.25,186.41L301.88,186.68L303.50,186.94L305.12,187.22L306.74,187.50L308.35,187.79L309.95,188.11L311.55,188.45L313.14,188.81L314.71,189.20L316.27,189.62L317.82,190.06L319.36,190.54L320.89,191.03L322.42,191.56L323.93,192.11L325.43,192.68L326.93,193.27L328.41,193.89L329.89,194.53L331.36,195.18L332.83,195.85L334.29,196.54L335.74,197.24L337.19,197.96L338.64,198.68L340.08,199.42L341.52,200.16L342.95,200.91L344.39,201.67L345.82,202.43L347.25,203.19L348.68,203.95L350.12,204.72L351.55,205.48L352.98,206.24L354.42,206.99L355.85,207.75L357.29,208.50L358.72,209.25L360.16,210.00L361.60,210.75L363.04,211.49L364.47,212.24L365.91,212.98L367.36,213.72L368.80,214.45L370.24,215.19L371.68,215.92L373.13,216.65L374.57,217.38L376.02,218.11L377.46,218.84L378.91,219.56L380.36,220.28L381.81,221.00L383.26,221.72L384.71,222.43L386.16,223.15L387.61,223.86L389.07,224.57L390.52,225.28L391.98,225.98L393.43,226.69L394.89,227.39L396.35,228.09L397.81,228.79L399.26,229.49L400.73,230.18L402.19,230.87L403.65,231.56L405.11,232.25L406.58,232.94L408.04,233.63L409.51,234.31L410.97,234.99L412.44,235.67L413.91,236.35L415.38,237.03L416.85,237.70L418.32,238.37L419.80,239.04L421.27,239.71L422.74,240.38L424.22,241.04L425.70,241.71L427.17,242.37L428.65,243.03L430.13,243.69L431.61,244.34L433.09,245.00L434.57,245.65L436.06,246.30L437.54,246.95L439.02,247.61L440.51,248.25L441.99,248.90L443.48,249.55L444.96,250.20L446.45,250.84L447.93,251.49L449.42,252.14L450.91,252.78L452.39,253.42L453.88,254.07L455.37,254.71L456.85,255.36L458.34,256.00L459.83,256.65L461.31,257.29L462.80,257.94L464.28,258.58L465.77,259.23L467.25,259.88L468.74,260.53L470.22,261.17L471.70,261.82L473.19,262.47L474.67,263.13L476.15,263.78L477.63,264.43L479.11,265.09L480.59,265.74L482.07,266.40L483.55,267.06L485.02,267.73L486.50,268.39L487.97,269.05L489.45,269.72L490.92,270.39L492.39,271.06L493.86,271.74L495.33,272.41L496.79,273.09L498.26,273.77L499.72,274.46L501.18,275.14L502.64,275.83L504.10,276.52L505.56,277.22L507.01,277.92L508.47,278.62L509.92,279.32L511.37,280.03L512.82,280.74L514.26,281.46L515.71,282.18L517.15,282.90L518.59,283.62L520.03,284.35L521.46,285.09L522.90,285.82L524.33,286.56L525.76,287.30L527.20,288.04L528.63,288.77L530.07,289.50L531.52,290.22L532.96,290.94L534.41,291.66L535.87,292.36L537.34,293.05L538.81,293.73L540.29,294.40L541.78,295.05L543.27,295.69L544.78,296.32L546.30,296.92L547.84,297.51L549.38,298.07L550.94,298.61L552.51,299.14L554.09,299.65L555.66,300.17L557.21,300.71L558.74,301.27L560.23,301.87L561.68,302.52L563.07,303.23L564.40,304.02L565.66,304.89L566.85,305.85L567.96,306.89L569.00,308.01L569.99,309.19L570.91,310.44L571.78,311.74L572.59,313.10L573.36,314.50L574.08,315.94L574.77,317.41L575.41,318.91L576.02,320.44L576.60,321.97L577.16,323.52L577.69,325.08L578.20,326.64L578.69,328.20L579.16,329.77L579.61,331.35L580.05,332.93L580.46,334.51L580.87,336.10L581.26,337.68L581.64,339.27L582.02,340.86L582.38,342.45L582.73,344.04L583.08,345.64L583.41,347.23L583.74,348.82L584.06,350.41L584.37,352.01L584.67,353.60L584.97,355.20L585.25,356.80L585.53,358.39L585.80,359.99L586.07,361.59L586.32,363.18L586.57,364.78L586.81,366.38L587.05,367.98L587.28,369.58L587.50,371.18L587.72,372.78L587.93,374.39L588.13,375.99L588.33,377.59L588.52,379.19L588.70,380.80L588.88,382.40L589.06,384.01L589.23,385.61L589.39,387.22L589.55,388.82L589.70,390.43L589.85,392.04L589.99,393.64L590.13,395.25L590.27,396.86L590.40,398.47L590.53,400.08L590.65,401.69L590.77,403.30L590.89,404.91L591.00,406.52L591.11,408.13L591.21,409.74L591.32,411.35L591.42,412.96L591.51,414.57L591.61,416.18L591.70,417.80L591.79,419.41L591.88,421.02L591.96,422.63L592.04,424.25L592.13,425.86L592.20,427.48L592.28,429.09L592.36,430.70L592.43,432.32L592.51,433.93L592.58,435.55L592.65,437.16L592.72,438.78L592.80,440.40L592.87,442.01L592.94,443.63L593.01,445.24L593.08,446.86L593.15,448.48L593.22,450.10L593.29,451.71L593.36,453.33L593.43,454.95L593.51,456.56L593.58,458.18L593.65,459.80L593.73,461.42L593.81,463.03L593.89,464.65L593.97,466.27L594.05,467.89L594.14,469.51L594.22,471.12L594.31,472.74L594.40,474.36L594.50,475.98L594.59,477.60L594.69,479.22L594.80,480.83L594.90,482.45L595.01,484.07L595.12,485.69L595.24,487.31L595.36,488.93L595.48,490.55L595.61,492.16L595.74,493.78L595.87,495.40L596.01,497.02" stroke="#0000ff" stroke-width="3.0"/>
<path d="M156.8,334V315" stroke="#0000ff" stroke-width="3.0"/>
<path d="M156.08,302.43L156.69,300.37L157.50,298.57L158.48,297.02L159.63,295.69L160.93,294.57L162.36,293.64L163.90,292.86L165.54,292.23L167.26,291.71L169.04,291.29L170.88,290.95L172.75,290.66L174.63,290.40L176.51,290.16L178.40,289.93L180.28,289.70L182.16,289.49L184.03,289.28L185.91,289.09L187.79,288.90L189.66,288.72L191.53,288.55L193.40,288.38L195.27,288.22L197.14,288.07L199.01,287.93L200.88,287.79L202.74,287.65L204.61,287.52L206.47,287.40L208.34,287.28L210.20,287.16L212.06,287.05L213.92,286.94L215.78,286.84L217.64,286.73L219.50,286.63L221.36,286.54L223.21,286.44L225.07,286.35L226.93,286.25L228.78,286.16L230.64,286.07L232.49,285.98L234.35,285.88L236.20,285.79L238.06,285.70L239.91,285.60L241.76,285.51L243.62,285.41L245.47,285.31L247.33,285.21L249.18,285.10L251.03,284.99L252.89,284.88L254.74,284.77L256.59,284.65L258.45,284.52L260.30,284.40L262.16,284.27L264.01,284.14L265.86,284.00L267.72,283.86L269.57,283.72L271.42,283.57L273.28,283.42L275.13,283.26L276.98,283.11L278.84,282.94L280.69,282.78L282.54,282.61L284.39,282.44L286.25,282.26L288.10,282.08L289.95,281.89L291.80,281.70L293.65,281.51L295.50,281.32L297.35,281.12L299.20,280.91L301.05,280.70L302.90,280.49L304.75,280.27L306.60,280.05L308.45,279.83L310.29,279.60L312.14,279.37L313.99,279.13L315.83,278.89L317.68,278.64L319.52,278.39L321.37,278.14L323.21,277.88L325.05,277.62L326.90,277.35L328.74,277.08L330.58,276.80L332.42,276.52L334.26,276.24L336.10,275.95L337.94,275.66L339.77,275.36L341.61,275.06L343.45,274.75L345.28,274.44L347.12,274.12L348.95,273.80L350.78,273.47L352.61,273.14L354.44,272.81L356.27,272.47L358.10,272.12L359.93,271.78L361.76,271.42L363.59,271.06L365.41,270.70L367.23,270.33L369.06,269.96L370.88,269.58L372.70,269.19L374.52,268.80L376.34,268.41L378.16,268.01L379.97,267.61L381.79,267.20L383.61,266.79L385.42,266.37L387.23,265.95L389.04,265.52L390.85,265.09L392.66,264.65L394.47,264.21L396.28,263.77L398.08,263.32L399.89,262.87L401.69,262.41L403.50,261.95L405.30,261.48L407.10,261.02L408.90,260.54L410.70,260.07L412.50,259.59L414.30,259.10L416.09,258.61L417.89,258.12L419.68,257.63L421.48,257.13L423.27,256.63L425.06,256.13L426.85,255.62L428.64,255.11L430.43,254.59L432.22,254.08L434.01,253.56L435.79,253.04L437.58,252.51L439.36,251.98L441.15,251.45L442.93,250.92L444.71,250.39L446.49,249.85L448.27,249.31L450.05,248.77L451.83,248.22L453.61,247.67L455.39,247.12L457.16,246.57L458.94,246.01L460.71,245.45L462.48,244.88L464.25,244.31L466.01,243.73L467.78,243.14L469.54,242.55L471.30,241.95L473.05,241.34L474.80,240.72L476.55,240.10L478.30,239.47L480.04,238.82L481.78,238.17L483.51,237.50L485.24,236.83L486.97,236.14L488.69,235.44L490.40,234.73L492.11,234.01L493.82,233.27L495.52,232.52L497.22,231.75L498.90,230.97L500.59,230.17L502.27,229.36L503.94,228.54L505.61,227.71L507.28,226.86L508.94,226.02L510.60,225.16L512.27,224.31L513.93,223.46L515.59,222.61L517.26,221.77L518.93,220.93L520.60,220.11L522.28,219.29L523.96,218.49L525.65,217.71L527.34,216.95L529.05,216.20L530.75,215.47L532.47,214.75L534.19,214.04L535.91,213.35L537.64,212.67L539.37,212.00L541.11,211.34L542.85,210.69L544.59,210.04L546.33,209.40L548.08,208.76L549.83,208.13L551.58,207.49L553.33,206.86L555.08,206.23L556.83,205.60L558.58,204.97L560.33,204.33L562.08,203.69L563.83,203.04L565.57,202.39L567.32,201.73L569.06,201.06L570.79,200.38L572.53,199.69L574.26,198.99L575.99,198.27L577.71,197.54L579.43,196.80L581.14,196.05L582.85,195.29L584.56,194.52L586.26,193.74L587.96,192.96L589.65,192.17L591.35,191.39L593.04,190.60L594.73,189.80L596.41,189.01L598.09,188.22L599.78,187.44L601.45,186.66L603.13,185.88L604.81,185.12L606.50,184.38L608.19,183.65L609.88,182.94L611.59,182.26L613.31,181.60L615.04,180.98L616.78,180.40L618.55,179.85L620.33,179.35L622.13,178.90L623.95,178.48L625.79,178.10L627.64,177.74L629.50,177.42L631.37,177.11L633.25,176.82L635.14,176.54L637.02,176.27L638.91,176.00L640.79,175.73L642.67,175.45L644.54,175.16L646.41,174.85L648.26,174.52L650.10,174.16L651.93,173.77L653.74,173.35L655.53,172.88L657.30,172.37L659.04,171.81L660.76,171.20L662.45,170.52L664.11,169.79L665.74,168.98L667.33,168.10L668.90,167.16L670.43,166.16L671.94,165.11L673.43,164.00L674.90,162.86L676.35,161.67L677.78,160.46L679.20,159.22L680.61,157.95L682.02,156.67L683.42,155.38L684.81,154.08L686.21,152.79L687.61,151.49L689.02,150.21L690.43,148.94L691.85,147.70L693.29,146.48L694.74,145.29L696.21,144.14L697.70,143.04L699.22,141.97L700.76,140.96L702.32,140.00L703.90,139.08L705.50,138.21L707.12,137.38L708.77,136.60L710.43,135.86L712.11,135.16L713.81,134.50L715.52,133.88L717.25,133.30L718.99,132.75L720.75,132.24L722.52,131.77L724.31,131.33L726.10,130.92L727.91,130.55L729.72,130.20L731.55,129.88L733.38,129.60L735.22,129.34L737.07,129.10L738.93,128.89L740.79,128.71L742.65,128.55L744.52,128.41L746.40,128.29L748.27,128.18L750.15,128.09L752.03,128.02L753.92,127.95L755.80,127.90L757.69,127.86L759.58,127.82L761.47,127.79L763.36,127.76L765.25,127.73L767.14,127.70L769.02,127.67L770.91,127.63L772.79,127.59L774.67,127.54L776.55,127.48L778.43,127.41L780.30,127.32L782.17,127.23L784.03,127.11L785.89,126.98L787.74,126.82L789.59,126.65L791.43,126.45L793.26,126.22L795.09,125.97L796.90,125.69L798.72,125.38L800.52,125.03L802.31,124.65L804.10,124.23L805.87,123.78L807.64,123.28L809.39,122.75L811.14,122.17L812.87,121.54L814.59,120.87L816.30,120.15L817.99,119.38L819.67,118.55L821.32,117.68L822.93,116.75L824.52,115.76L826.05,114.72L827.55,113.61L828.98,112.45L830.36,111.23L831.68,109.94L832.92,108.59L834.09,107.17L835.18,105.69L836.18,104.14L837.09,102.52L837.91,100.84L838.64,99.09L839.30,97.31L839.89,95.48L840.43,93.64L840.91,91.78L841.37,89.92L841.79,88.07L842.20,86.24" stroke="#ffc20a" stroke-width="3.1"/>
<path d="M156.23,126.88L157.71,128.19L159.25,129.37L160.84,130.42L162.48,131.36L164.17,132.19L165.90,132.92L167.67,133.57L169.47,134.13L171.30,134.62L173.16,135.04L175.04,135.39L176.94,135.69L178.87,135.93L180.81,136.13L182.76,136.28L184.73,136.40L186.71,136.48L188.70,136.53L190.69,136.57L192.68,136.58L194.68,136.59L196.67,136.59L198.66,136.58L200.64,136.58L202.62,136.59L204.59,136.59L206.56,136.60L208.52,136.62L210.48,136.63L212.44,136.65L214.39,136.68L216.34,136.71L218.29,136.75L220.23,136.79L222.17,136.84L224.11,136.89L226.05,136.95L227.99,137.01L229.93,137.09L231.87,137.16L233.81,137.25L235.75,137.34L237.69,137.45L239.63,137.55L241.57,137.67L243.52,137.80L245.46,137.93L247.41,138.08L249.37,138.23L251.32,138.39L253.28,138.57L255.24,138.76L257.20,138.96L259.15,139.19L261.10,139.44L263.05,139.71L264.99,140.02L266.91,140.35L268.83,140.72L270.73,141.13L272.62,141.58L274.49,142.07L276.34,142.60L278.17,143.19L279.98,143.83L281.77,144.52L283.53,145.26L285.26,146.07L286.96,146.94L288.64,147.88L290.28,148.88L291.90,149.93L293.50,151.04L295.07,152.19L296.63,153.38L298.17,154.61L299.70,155.86L301.21,157.14L302.72,158.44L304.22,159.75L305.72,161.06L307.22,162.38L308.72,163.69L310.22,164.99L311.74,166.28L313.26,167.54L314.80,168.78L316.35,169.98L317.91,171.15L319.50,172.28L321.12,173.35L322.75,174.37L324.42,175.33L326.11,176.23L327.84,177.06L329.59,177.83L331.38,178.54L333.18,179.20L335.01,179.81L336.86,180.37L338.73,180.90L340.62,181.38L342.52,181.83L344.43,182.25L346.36,182.65L348.30,183.02L350.24,183.38L352.19,183.72L354.15,184.05L356.10,184.37L358.06,184.70L360.01,185.02L361.96,185.35L363.91,185.69L365.85,186.04L367.78,186.40L369.71,186.78L371.63,187.17L373.54,187.57L375.45,187.99L377.34,188.44L379.23,188.90L381.12,189.38L382.99,189.88L384.85,190.40L386.71,190.95L388.56,191.52L390.40,192.12L392.23,192.74L394.05,193.39L395.86,194.07L397.66,194.78L399.45,195.52L401.23,196.30L403.00,197.10L404.76,197.93L406.51,198.78L408.26,199.66L410.00,200.55L411.74,201.45L413.47,202.37L415.21,203.29L416.94,204.21L418.67,205.13L420.41,206.06L422.14,206.97L423.88,207.88L425.63,208.77L427.38,209.65L429.13,210.51L430.89,211.36L432.65,212.20L434.42,213.03L436.19,213.85L437.96,214.66L439.74,215.46L441.52,216.26L443.30,217.05L445.09,217.84L446.87,218.62L448.66,219.40L450.45,220.19L452.23,220.97L454.02,221.75L455.81,222.52L457.60,223.30L459.39,224.08L461.19,224.86L462.98,225.63L464.77,226.40L466.57,227.17L468.36,227.94L470.16,228.71L471.96,229.48L473.76,230.24L475.56,231.00L477.36,231.76L479.16,232.51L480.96,233.26L482.77,234.01L484.57,234.76L486.38,235.50L488.19,236.24L490.00,236.97L491.81,237.71L493.63,238.43L495.44,239.15L497.26,239.87L499.08,240.59L500.90,241.29L502.72,242.00L504.54,242.70L506.37,243.39L508.19,244.08L510.02,244.76L511.85,245.44L513.68,246.11L515.52,246.77L517.35,247.43L519.19,248.08L521.03,248.73L522.87,249.37L524.72,250.00L526.57,250.62L528.41,251.24L530.26,251.85L532.12,252.46L533.97,253.07L535.82,253.67L537.68,254.27L539.53,254.87L541.39,255.47L543.24,256.07L545.09,256.67L546.95,257.28L548.80,257.89L550.65,258.50L552.50,259.12L554.35,259.74L556.19,260.37L558.04,261.01L559.88,261.66L561.71,262.32L563.55,262.99L565.38,263.67L567.21,264.36L569.03,265.07L570.85,265.79L572.66,266.52L574.47,267.27L576.28,268.04L578.08,268.83L579.88,269.63L581.67,270.44L583.46,271.26L585.24,272.09L587.02,272.93L588.80,273.77L590.58,274.62L592.36,275.47L594.13,276.32L595.90,277.17L597.68,278.02L599.45,278.86L601.22,279.70L603.00,280.53L604.77,281.35L606.55,282.15L608.33,282.95L610.11,283.73L611.89,284.50L613.68,285.25L615.47,285.99L617.26,286.72L619.06,287.43L620.86,288.12L622.67,288.80L624.48,289.46L626.30,290.10L628.12,290.73L629.95,291.33L631.79,291.92L633.64,292.49L635.49,293.03L637.35,293.56L639.22,294.06L641.10,294.55L642.98,295.00L644.88,295.44L646.79,295.85L648.70,296.24L650.63,296.61L652.57,296.95L654.52,297.26L656.49,297.55L658.46,297.81L660.45,298.04L662.45,298.25L664.46,298.44L666.47,298.61L668.49,298.78L670.50,298.95L672.51,299.13L674.51,299.32L676.49,299.53L678.46,299.76L680.41,300.03L682.34,300.34L684.24,300.70L686.11,301.10L687.94,301.57L689.74,302.11L691.49,302.71L693.20,303.40L694.86,304.17L696.47,305.04L698.03,306.00L699.53,307.07L700.97,308.23L702.36,309.47L703.69,310.80L704.98,312.21L706.21,313.69L707.40,315.23L708.53,316.83L709.63,318.49L710.67,320.19L711.68,321.93L712.64,323.71L713.57,325.51L714.45,327.34L715.30,329.18L716.11,331.04L716.89,332.90L717.64,334.76L718.35,336.62L719.03,338.49L719.68,340.35L720.31,342.22L720.90,344.09L721.47,345.97L722.02,347.84L722.53,349.72L723.03,351.60L723.50,353.48L723.96,355.37L724.39,357.25L724.80,359.14L725.20,361.03L725.58,362.93L725.94,364.83L726.29,366.73L726.63,368.63L726.95,370.53L727.26,372.44L727.56,374.35L727.85,376.27L728.14,378.19L728.41,380.11L728.67,382.03L728.92,383.95L729.17,385.88L729.40,387.81L729.63,389.74L729.85,391.67L730.06,393.61L730.26,395.55L730.45,397.49L730.64,399.43L730.82,401.37L731.00,403.32L731.16,405.26L731.32,407.21L731.48,409.16L731.63,411.11L731.77,413.06L731.91,415.01L732.04,416.97L732.17,418.92L732.29,420.88L732.41,422.84L732.53,424.79L732.64,426.75L732.74,428.71L732.85,430.67L732.95,432.63L733.05,434.59L733.14,436.55L733.23,438.51L733.32,440.47L733.41,442.43L733.50,444.39L733.59,446.35L733.67,448.31L733.75,450.26L733.83,452.22L733.92,454.18L734.00,456.14L734.08,458.09L734.16,460.05L734.24,462.01L734.33,463.96L734.41,465.91L734.50,467.87L734.58,469.82L734.67,471.77L734.76,473.71L734.85,475.66L734.95,477.61L735.05,479.55L735.15,481.49L735.25,483.43L735.36,485.37L735.47,487.31L735.58,489.24L735.70,491.17L735.82,493.10L735.95,495.03L736.08,496.96" stroke="#ffc20a" stroke-width="3.1"/>
</g>
<rect x="155.60" y="62.40" width="807.00" height="433.30" fill="none" stroke="#000" stroke-width="3.0"/>
<path d="M300.07,62.40v15.4M300.07,495.70v-15.4M444.15,62.40v15.4M444.15,495.70v-15.4M588.22,62.40v15.4M588.22,495.70v-15.4M732.30,62.40v15.4M732.30,495.70v-15.4M876.38,62.40v15.4M876.38,495.70v-15.4M228.04,62.40v7.2M228.04,495.70v-7.2M372.11,62.40v7.2M372.11,495.70v-7.2M516.19,62.40v7.2M516.19,495.70v-7.2M660.26,62.40v7.2M660.26,495.70v-7.2M804.34,62.40v7.2M804.34,495.70v-7.2M948.41,62.40v7.2M948.41,495.70v-7.2M155.60,433.80h16.0M962.60,433.80h-16.0M155.60,310.00h16.0M962.60,310.00h-16.0M155.60,186.20h16.0M962.60,186.20h-16.0M155.60,371.90h7.9M962.60,371.90h-7.9M155.60,248.10h7.9M962.60,248.10h-7.9M155.60,124.30h7.9M962.60,124.30h-7.9" stroke="#000" stroke-width="3.0" fill="none"/>
<text x="156.00" y="546.20" font-size="43" text-anchor="middle" >0</text>
<text x="300.07" y="546.20" font-size="43" text-anchor="middle" >50</text>
<text x="444.15" y="546.20" font-size="43" text-anchor="middle" >100</text>
<text x="588.22" y="546.20" font-size="43" text-anchor="middle" >150</text>
<text x="732.30" y="546.20" font-size="43" text-anchor="middle" >200</text>
<text x="876.38" y="546.20" font-size="43" text-anchor="middle" >250</text>
<text x="137.30" y="446.60" font-size="43" text-anchor="end" >3.2</text>
<text x="137.30" y="322.80" font-size="43" text-anchor="end" >3.6</text>
<text x="137.30" y="199.00" font-size="43" text-anchor="end" >4.0</text>
<text x="137.30" y="75.20" font-size="43" text-anchor="end" >4.4</text>
<text x="167.50" y="41.30" font-size="57" text-anchor="start" >(a)</text>
<text x="558.6" y="620.4" font-size="43" text-anchor="middle"><tspan font-style="italic">Q</tspan> / mAh g<tspan font-size="28" dy="-17">-1</tspan></text>
<text transform="translate(60.3,277.5) rotate(-90)" font-size="43" text-anchor="middle"><tspan font-style="italic">U</tspan> / V (Li anode)</text>
<path d="M173.0,355.60H234.3" stroke="#0a8a5e" stroke-width="3" stroke-linecap="round"/>
<text x="241.80" y="364.90" font-size="27.6" text-anchor="start" >PC-LNO LE-LIB</text>
<path d="M173.0,389.80H234.3" stroke="#d87f4c" stroke-width="3" stroke-linecap="round"/>
<text x="241.80" y="399.10" font-size="27.6" text-anchor="start" >SC-LNO SP40-20 LE-LIB</text>
<path d="M173.0,424.00H234.3" stroke="#0000ff" stroke-width="3" stroke-linecap="round"/>
<text x="241.80" y="433.30" font-size="27.6" text-anchor="start" >PC-LNO SSB</text>
<path d="M173.0,458.20H234.3" stroke="#ffc20a" stroke-width="3" stroke-linecap="round"/>
<text x="241.80" y="467.50" font-size="27.6" text-anchor="start" >SC-LNO SP40-20 SSB</text>
<g clip-path="url(#clipB)">
<g fill="url(#gG)"><circle cx="161.83" cy="727.97" r="5.9"/><circle cx="167.21" cy="735.61" r="5.9"/><circle cx="172.59" cy="758.36" r="5.9"/><circle cx="177.97" cy="749.15" r="5.9"/><circle cx="183.34" cy="768.26" r="5.9"/><circle cx="188.72" cy="787.53" r="5.9"/><circle cx="194.10" cy="816.87" r="5.9"/><circle cx="199.48" cy="817.97" r="5.9"/><circle cx="204.86" cy="819.07" r="5.9"/><circle cx="210.24" cy="820.15" r="5.9"/><circle cx="215.62" cy="821.24" r="5.9"/><circle cx="221.00" cy="822.32" r="5.9"/><circle cx="226.38" cy="823.40" r="5.9"/><circle cx="231.76" cy="824.47" r="5.9"/><circle cx="237.13" cy="825.54" r="5.9"/><circle cx="242.51" cy="826.60" r="5.9"/><circle cx="247.89" cy="827.66" r="5.9"/><circle cx="253.27" cy="828.72" r="5.9"/><circle cx="258.65" cy="829.78" r="5.9"/><circle cx="264.03" cy="830.83" r="5.9"/><circle cx="269.41" cy="831.88" r="5.9"/><circle cx="274.79" cy="832.91" r="5.9"/><circle cx="280.17" cy="833.93" r="5.9"/><circle cx="285.55" cy="834.95" r="5.9"/><circle cx="290.92" cy="835.97" r="5.9"/><circle cx="296.30" cy="837.00" r="5.9"/><circle cx="301.68" cy="838.06" r="5.9"/><circle cx="307.06" cy="840.02" r="5.9"/><circle cx="312.44" cy="839.93" r="5.9"/><circle cx="317.82" cy="841.43" r="5.9"/><circle cx="323.20" cy="842.07" r="5.9"/><circle cx="328.58" cy="844.45" r="5.9"/><circle cx="333.96" cy="844.57" r="5.9"/><circle cx="339.34" cy="846.06" r="5.9"/><circle cx="344.71" cy="846.48" r="5.9"/><circle cx="350.09" cy="848.96" r="5.9"/><circle cx="355.47" cy="848.81" r="5.9"/><circle cx="360.85" cy="850.92" r="5.9"/><circle cx="366.23" cy="850.92" r="5.9"/><circle cx="371.61" cy="851.00" r="5.9"/><circle cx="376.99" cy="854.96" r="5.9"/><circle cx="382.37" cy="854.62" r="5.9"/><circle cx="387.75" cy="854.21" r="5.9"/><circle cx="393.13" cy="855.18" r="5.9"/><circle cx="398.50" cy="855.87" r="5.9"/><circle cx="403.88" cy="856.64" r="5.9"/><circle cx="409.26" cy="857.45" r="5.9"/><circle cx="414.64" cy="858.30" r="5.9"/><circle cx="420.02" cy="859.17" r="5.9"/><circle cx="425.40" cy="860.07" r="5.9"/><circle cx="430.78" cy="860.99" r="5.9"/><circle cx="436.16" cy="861.94" r="5.9"/><circle cx="441.54" cy="862.91" r="5.9"/><circle cx="446.92" cy="863.89" r="5.9"/><circle cx="452.29" cy="864.88" r="5.9"/><circle cx="457.67" cy="865.89" r="5.9"/><circle cx="463.05" cy="866.91" r="5.9"/><circle cx="468.43" cy="867.93" r="5.9"/><circle cx="473.81" cy="868.95" r="5.9"/><circle cx="479.19" cy="869.98" r="5.9"/><circle cx="484.57" cy="871.01" r="5.9"/><circle cx="489.95" cy="872.07" r="5.9"/><circle cx="495.33" cy="873.15" r="5.9"/><circle cx="500.71" cy="874.25" r="5.9"/><circle cx="506.08" cy="875.36" r="5.9"/><circle cx="511.46" cy="876.50" r="5.9"/><circle cx="516.84" cy="877.64" r="5.9"/><circle cx="522.22" cy="878.80" r="5.9"/><circle cx="527.60" cy="879.96" r="5.9"/><circle cx="532.98" cy="881.13" r="5.9"/><circle cx="538.36" cy="882.30" r="5.9"/><circle cx="543.74" cy="883.47" r="5.9"/><circle cx="549.12" cy="884.64" r="5.9"/><circle cx="554.50" cy="885.80" r="5.9"/><circle cx="559.88" cy="886.95" r="5.9"/><circle cx="565.25" cy="888.10" r="5.9"/><circle cx="570.63" cy="889.23" r="5.9"/><circle cx="576.01" cy="890.34" r="5.9"/><circle cx="581.39" cy="891.44" r="5.9"/><circle cx="586.77" cy="892.51" r="5.9"/><circle cx="592.15" cy="893.58" r="5.9"/><circle cx="597.53" cy="894.64" r="5.9"/><circle cx="602.91" cy="895.69" r="5.9"/><circle cx="608.29" cy="896.74" r="5.9"/><circle cx="613.66" cy="897.78" r="5.9"/><circle cx="619.04" cy="898.82" r="5.9"/><circle cx="624.42" cy="899.84" r="5.9"/><circle cx="629.80" cy="900.86" r="5.9"/><circle cx="635.18" cy="901.87" r="5.9"/><circle cx="640.56" cy="902.87" r="5.9"/><circle cx="645.94" cy="903.87" r="5.9"/><circle cx="651.32" cy="904.85" r="5.9"/><circle cx="656.70" cy="905.82" r="5.9"/><circle cx="662.08" cy="906.79" r="5.9"/><circle cx="667.45" cy="907.73" r="5.9"/><circle cx="672.83" cy="908.66" r="5.9"/><circle cx="678.21" cy="909.56" r="5.9"/><circle cx="683.59" cy="910.46" r="5.9"/><circle cx="688.97" cy="911.35" r="5.9"/><circle cx="694.35" cy="912.25" r="5.9"/><circle cx="699.73" cy="913.15" r="5.9"/><circle cx="705.11" cy="914.08" r="5.9"/><circle cx="710.49" cy="915.01" r="5.9"/><circle cx="715.87" cy="915.95" r="5.9"/><circle cx="721.24" cy="916.87" r="5.9"/><circle cx="726.62" cy="917.77" r="5.9"/><circle cx="732.00" cy="918.67" r="5.9"/><circle cx="737.38" cy="919.57" r="5.9"/><circle cx="742.76" cy="920.46" r="5.9"/><circle cx="748.14" cy="921.35" r="5.9"/><circle cx="753.52" cy="922.23" r="5.9"/><circle cx="758.90" cy="923.11" r="5.9"/><circle cx="764.28" cy="923.99" r="5.9"/><circle cx="769.66" cy="924.85" r="5.9"/><circle cx="775.03" cy="925.71" r="5.9"/><circle cx="780.41" cy="926.55" r="5.9"/><circle cx="785.79" cy="927.39" r="5.9"/><circle cx="791.17" cy="928.21" r="5.9"/><circle cx="796.55" cy="929.02" r="5.9"/><circle cx="801.93" cy="929.82" r="5.9"/><circle cx="807.31" cy="930.61" r="5.9"/><circle cx="812.69" cy="931.41" r="5.9"/><circle cx="818.07" cy="932.21" r="5.9"/><circle cx="823.45" cy="933.00" r="5.9"/><circle cx="828.82" cy="933.80" r="5.9"/><circle cx="834.20" cy="934.58" r="5.9"/><circle cx="839.58" cy="935.36" r="5.9"/><circle cx="844.96" cy="936.13" r="5.9"/><circle cx="850.34" cy="936.90" r="5.9"/><circle cx="855.72" cy="937.64" r="5.9"/><circle cx="861.10" cy="938.38" r="5.9"/><circle cx="866.48" cy="939.09" r="5.9"/><circle cx="871.86" cy="939.79" r="5.9"/><circle cx="877.24" cy="940.47" r="5.9"/><circle cx="882.61" cy="941.13" r="5.9"/><circle cx="887.99" cy="941.76" r="5.9"/><circle cx="893.37" cy="942.37" r="5.9"/><circle cx="898.75" cy="942.94" r="5.9"/><circle cx="904.13" cy="943.50" r="5.9"/><circle cx="909.51" cy="944.03" r="5.9"/><circle cx="914.89" cy="944.55" r="5.9"/><circle cx="920.27" cy="945.06" r="5.9"/><circle cx="925.65" cy="945.55" r="5.9"/><circle cx="931.03" cy="946.02" r="5.9"/><circle cx="936.40" cy="946.48" r="5.9"/><circle cx="941.78" cy="946.92" r="5.9"/><circle cx="947.16" cy="947.34" r="5.9"/><circle cx="952.54" cy="947.74" r="5.9"/><circle cx="957.92" cy="948.13" r="5.9"/><circle cx="963.30" cy="948.49" r="5.9"/></g>
<g fill="url(#gO)"><circle cx="161.83" cy="775.03" r="6.0"/><circle cx="167.21" cy="783.01" r="6.0"/><circle cx="172.59" cy="799.51" r="6.0"/><circle cx="177.97" cy="789.44" r="6.0"/><circle cx="183.34" cy="806.28" r="6.0"/><circle cx="188.72" cy="823.13" r="6.0"/><circle cx="194.10" cy="853.86" r="6.0"/><circle cx="199.48" cy="854.01" r="6.0"/><circle cx="204.86" cy="854.25" r="6.0"/><circle cx="210.24" cy="854.56" r="6.0"/><circle cx="215.62" cy="854.92" r="6.0"/><circle cx="221.00" cy="855.33" r="6.0"/><circle cx="226.38" cy="855.77" r="6.0"/><circle cx="231.76" cy="856.30" r="6.0"/><circle cx="237.13" cy="856.98" r="6.0"/><circle cx="242.51" cy="857.77" r="6.0"/><circle cx="247.89" cy="858.64" r="6.0"/><circle cx="253.27" cy="859.56" r="6.0"/><circle cx="258.65" cy="860.50" r="6.0"/><circle cx="264.03" cy="861.42" r="6.0"/><circle cx="269.41" cy="862.29" r="6.0"/><circle cx="274.79" cy="863.11" r="6.0"/><circle cx="280.17" cy="863.93" r="6.0"/><circle cx="285.55" cy="864.76" r="6.0"/><circle cx="290.92" cy="865.58" r="6.0"/><circle cx="296.30" cy="866.42" r="6.0"/><circle cx="301.68" cy="867.25" r="6.0"/><circle cx="307.06" cy="868.10" r="6.0"/><circle cx="312.44" cy="868.96" r="6.0"/><circle cx="317.82" cy="869.83" r="6.0"/><circle cx="323.20" cy="870.72" r="6.0"/><circle cx="328.58" cy="871.61" r="6.0"/><circle cx="333.96" cy="872.49" r="6.0"/><circle cx="339.34" cy="873.36" r="6.0"/><circle cx="344.71" cy="874.22" r="6.0"/><circle cx="350.09" cy="875.05" r="6.0"/><circle cx="355.47" cy="875.85" r="6.0"/><circle cx="360.85" cy="876.62" r="6.0"/><circle cx="366.23" cy="877.38" r="6.0"/><circle cx="371.61" cy="878.14" r="6.0"/><circle cx="376.99" cy="878.93" r="6.0"/><circle cx="382.37" cy="879.76" r="6.0"/><circle cx="387.75" cy="880.61" r="6.0"/><circle cx="393.13" cy="881.45" r="6.0"/><circle cx="398.50" cy="882.26" r="6.0"/><circle cx="403.88" cy="883.04" r="6.0"/><circle cx="409.26" cy="883.82" r="6.0"/><circle cx="414.64" cy="884.61" r="6.0"/><circle cx="420.02" cy="885.38" r="6.0"/><circle cx="425.40" cy="886.16" r="6.0"/><circle cx="430.78" cy="886.92" r="6.0"/><circle cx="436.16" cy="887.68" r="6.0"/><circle cx="441.54" cy="888.42" r="6.0"/><circle cx="446.92" cy="889.15" r="6.0"/><circle cx="452.29" cy="889.87" r="6.0"/><circle cx="457.67" cy="890.57" r="6.0"/><circle cx="463.05" cy="891.25" r="6.0"/><circle cx="468.43" cy="891.91" r="6.0"/><circle cx="473.81" cy="892.54" r="6.0"/><circle cx="479.19" cy="893.16" r="6.0"/><circle cx="484.57" cy="893.74" r="6.0"/><circle cx="489.95" cy="894.31" r="6.0"/><circle cx="495.33" cy="894.86" r="6.0"/><circle cx="500.71" cy="895.39" r="6.0"/><circle cx="506.08" cy="895.90" r="6.0"/><circle cx="511.46" cy="896.40" r="6.0"/><circle cx="516.84" cy="896.89" r="6.0"/><circle cx="522.22" cy="897.38" r="6.0"/><circle cx="527.60" cy="897.86" r="6.0"/><circle cx="532.98" cy="898.33" r="6.0"/><circle cx="538.36" cy="898.81" r="6.0"/><circle cx="543.74" cy="899.28" r="6.0"/><circle cx="549.12" cy="899.76" r="6.0"/><circle cx="554.50" cy="900.25" r="6.0"/><circle cx="559.88" cy="900.74" r="6.0"/><circle cx="565.25" cy="901.25" r="6.0"/><circle cx="570.63" cy="901.75" r="6.0"/><circle cx="576.01" cy="902.26" r="6.0"/><circle cx="581.39" cy="902.76" r="6.0"/><circle cx="586.77" cy="903.26" r="6.0"/><circle cx="592.15" cy="903.74" r="6.0"/><circle cx="597.53" cy="904.22" r="6.0"/><circle cx="602.91" cy="904.67" r="6.0"/><circle cx="608.29" cy="905.13" r="6.0"/><circle cx="613.66" cy="905.57" r="6.0"/><circle cx="619.04" cy="906.01" r="6.0"/><circle cx="624.42" cy="906.45" r="6.0"/><circle cx="629.80" cy="906.88" r="6.0"/><circle cx="635.18" cy="907.31" r="6.0"/><circle cx="640.56" cy="907.73" r="6.0"/><circle cx="645.94" cy="908.15" r="6.0"/><circle cx="651.32" cy="908.56" r="6.0"/><circle cx="656.70" cy="908.98" r="6.0"/><circle cx="662.08" cy="909.39" r="6.0"/><circle cx="667.45" cy="909.80" r="6.0"/><circle cx="672.83" cy="910.21" r="6.0"/><circle cx="678.21" cy="910.62" r="6.0"/><circle cx="683.59" cy="911.03" r="6.0"/><circle cx="688.97" cy="911.44" r="6.0"/><circle cx="694.35" cy="911.86" r="6.0"/><circle cx="699.73" cy="912.27" r="6.0"/><circle cx="705.11" cy="912.67" r="6.0"/><circle cx="710.49" cy="913.07" r="6.0"/><circle cx="715.87" cy="913.47" r="6.0"/><circle cx="721.24" cy="913.87" r="6.0"/><circle cx="726.62" cy="914.27" r="6.0"/><circle cx="732.00" cy="914.66" r="6.0"/><circle cx="737.38" cy="915.05" r="6.0"/><circle cx="742.76" cy="915.44" r="6.0"/><circle cx="748.14" cy="915.84" r="6.0"/><circle cx="753.52" cy="916.23" r="6.0"/><circle cx="758.90" cy="916.62" r="6.0"/><circle cx="764.28" cy="917.02" r="6.0"/><circle cx="769.66" cy="917.42" r="6.0"/><circle cx="775.03" cy="917.82" r="6.0"/><circle cx="780.41" cy="918.22" r="6.0"/><circle cx="785.79" cy="918.63" r="6.0"/><circle cx="791.17" cy="919.04" r="6.0"/><circle cx="796.55" cy="919.46" r="6.0"/><circle cx="801.93" cy="919.89" r="6.0"/><circle cx="807.31" cy="920.31" r="6.0"/><circle cx="812.69" cy="920.75" r="6.0"/><circle cx="818.07" cy="921.18" r="6.0"/><circle cx="823.45" cy="921.62" r="6.0"/><circle cx="828.82" cy="922.06" r="6.0"/><circle cx="834.20" cy="922.51" r="6.0"/><circle cx="839.58" cy="922.96" r="6.0"/><circle cx="844.96" cy="923.41" r="6.0"/><circle cx="850.34" cy="923.87" r="6.0"/><circle cx="855.72" cy="924.32" r="6.0"/><circle cx="861.10" cy="924.78" r="6.0"/><circle cx="866.48" cy="925.24" r="6.0"/><circle cx="871.86" cy="925.70" r="6.0"/><circle cx="877.24" cy="926.17" r="6.0"/><circle cx="882.61" cy="926.63" r="6.0"/><circle cx="887.99" cy="927.10" r="6.0"/><circle cx="893.37" cy="927.57" r="6.0"/><circle cx="898.75" cy="928.04" r="6.0"/><circle cx="904.13" cy="928.50" r="6.0"/><circle cx="909.51" cy="928.97" r="6.0"/><circle cx="914.89" cy="929.44" r="6.0"/><circle cx="920.27" cy="929.93" r="6.0"/><circle cx="925.65" cy="930.43" r="6.0"/><circle cx="931.03" cy="930.96" r="6.0"/><circle cx="936.40" cy="931.50" r="6.0"/><circle cx="941.78" cy="932.06" r="6.0"/><circle cx="947.16" cy="932.63" r="6.0"/><circle cx="952.54" cy="933.21" r="6.0"/><circle cx="957.92" cy="933.81" r="6.0"/><circle cx="963.30" cy="934.43" r="6.0"/></g>
<g fill="url(#gB)"><circle cx="161.83" cy="862.02" r="7.9"/><circle cx="167.21" cy="867.40" r="7.9"/><circle cx="172.59" cy="891.37" r="7.9"/><circle cx="177.97" cy="872.44" r="7.9"/><circle cx="183.34" cy="896.75" r="7.9"/><circle cx="188.72" cy="918.63" r="7.9"/><circle cx="194.10" cy="945.19" r="7.9"/><circle cx="199.48" cy="945.82" r="7.9"/><circle cx="204.86" cy="946.45" r="7.9"/><circle cx="210.24" cy="947.08" r="7.9"/><circle cx="215.62" cy="947.70" r="7.9"/><circle cx="221.00" cy="948.32" r="7.9"/><circle cx="226.38" cy="948.94" r="7.9"/><circle cx="231.76" cy="949.55" r="7.9"/><circle cx="237.13" cy="950.17" r="7.9"/><circle cx="242.51" cy="950.78" r="7.9"/><circle cx="247.89" cy="951.39" r="7.9"/><circle cx="253.27" cy="951.99" r="7.9"/><circle cx="258.65" cy="952.60" r="7.9"/><circle cx="264.03" cy="953.20" r="7.9"/><circle cx="269.41" cy="953.80" r="7.9"/><circle cx="274.79" cy="954.40" r="7.9"/><circle cx="280.17" cy="954.99" r="7.9"/><circle cx="285.55" cy="955.59" r="7.9"/><circle cx="290.92" cy="956.18" r="7.9"/><circle cx="296.30" cy="956.77" r="7.9"/><circle cx="301.68" cy="957.35" r="7.9"/><circle cx="307.06" cy="957.93" r="7.9"/><circle cx="312.44" cy="958.50" r="7.9"/><circle cx="317.82" cy="959.07" r="7.9"/><circle cx="323.20" cy="959.64" r="7.9"/><circle cx="328.58" cy="960.20" r="7.9"/><circle cx="333.96" cy="960.76" r="7.9"/><circle cx="339.34" cy="961.31" r="7.9"/><circle cx="344.71" cy="961.87" r="7.9"/><circle cx="350.09" cy="962.42" r="7.9"/><circle cx="355.47" cy="962.97" r="7.9"/><circle cx="360.85" cy="963.52" r="7.9"/><circle cx="366.23" cy="964.07" r="7.9"/><circle cx="371.61" cy="964.62" r="7.9"/><circle cx="376.99" cy="965.18" r="7.9"/><circle cx="382.37" cy="965.74" r="7.9"/><circle cx="387.75" cy="966.30" r="7.9"/><circle cx="393.13" cy="966.86" r="7.9"/><circle cx="398.50" cy="967.43" r="7.9"/><circle cx="403.88" cy="968.00" r="7.9"/><circle cx="409.26" cy="968.57" r="7.9"/><circle cx="414.64" cy="969.16" r="7.9"/><circle cx="420.02" cy="969.75" r="7.9"/><circle cx="425.40" cy="970.35" r="7.9"/><circle cx="430.78" cy="970.95" r="7.9"/><circle cx="436.16" cy="971.56" r="7.9"/><circle cx="441.54" cy="972.18" r="7.9"/><circle cx="446.92" cy="972.80" r="7.9"/><circle cx="452.29" cy="973.43" r="7.9"/><circle cx="457.67" cy="974.06" r="7.9"/><circle cx="463.05" cy="974.69" r="7.9"/><circle cx="468.43" cy="975.32" r="7.9"/><circle cx="473.81" cy="975.96" r="7.9"/><circle cx="479.19" cy="976.59" r="7.9"/><circle cx="484.57" cy="977.23" r="7.9"/><circle cx="489.95" cy="977.86" r="7.9"/><circle cx="495.33" cy="978.49" r="7.9"/><circle cx="500.71" cy="979.12" r="7.9"/><circle cx="506.08" cy="979.74" r="7.9"/><circle cx="511.46" cy="980.36" r="7.9"/><circle cx="516.84" cy="980.97" r="7.9"/><circle cx="522.22" cy="981.58" r="7.9"/><circle cx="527.60" cy="982.18" r="7.9"/><circle cx="532.98" cy="982.77" r="7.9"/><circle cx="538.36" cy="983.36" r="7.9"/><circle cx="543.74" cy="983.93" r="7.9"/><circle cx="549.12" cy="984.50" r="7.9"/><circle cx="554.50" cy="985.06" r="7.9"/><circle cx="559.88" cy="985.61" r="7.9"/><circle cx="565.25" cy="986.16" r="7.9"/><circle cx="570.63" cy="986.71" r="7.9"/><circle cx="576.01" cy="987.26" r="7.9"/><circle cx="581.39" cy="987.80" r="7.9"/><circle cx="586.77" cy="988.34" r="7.9"/><circle cx="592.15" cy="988.87" r="7.9"/><circle cx="597.53" cy="989.40" r="7.9"/><circle cx="602.91" cy="989.93" r="7.9"/><circle cx="608.29" cy="990.46" r="7.9"/><circle cx="613.66" cy="990.98" r="7.9"/><circle cx="619.04" cy="991.49" r="7.9"/><circle cx="624.42" cy="992.00" r="7.9"/><circle cx="629.80" cy="992.51" r="7.9"/><circle cx="635.18" cy="993.01" r="7.9"/><circle cx="640.56" cy="993.51" r="7.9"/><circle cx="645.94" cy="994.00" r="7.9"/><circle cx="651.32" cy="994.49" r="7.9"/><circle cx="656.70" cy="994.97" r="7.9"/><circle cx="662.08" cy="995.44" r="7.9"/><circle cx="667.45" cy="995.91" r="7.9"/><circle cx="672.83" cy="996.38" r="7.9"/><circle cx="678.21" cy="996.84" r="7.9"/><circle cx="683.59" cy="997.29" r="7.9"/><circle cx="688.97" cy="997.72" r="7.9"/><circle cx="694.35" cy="998.14" r="7.9"/><circle cx="699.73" cy="998.54" r="7.9"/><circle cx="705.11" cy="998.93" r="7.9"/><circle cx="710.49" cy="999.31" r="7.9"/><circle cx="715.87" cy="999.70" r="7.9"/><circle cx="721.24" cy="1000.09" r="7.9"/><circle cx="726.62" cy="1000.49" r="7.9"/><circle cx="732.00" cy="1000.91" r="7.9"/><circle cx="737.38" cy="1001.35" r="7.9"/><circle cx="742.76" cy="1001.82" r="7.9"/><circle cx="748.14" cy="1002.29" r="7.9"/><circle cx="753.52" cy="1002.78" r="7.9"/><circle cx="758.90" cy="1003.29" r="7.9"/><circle cx="764.28" cy="1003.82" r="7.9"/><circle cx="769.66" cy="1004.38" r="7.9"/><circle cx="775.03" cy="1004.98" r="7.9"/><circle cx="780.41" cy="1005.62" r="7.9"/><circle cx="785.79" cy="1006.34" r="7.9"/><circle cx="791.17" cy="1007.16" r="7.9"/><circle cx="796.55" cy="1008.05" r="7.9"/><circle cx="801.93" cy="1008.98" r="7.9"/><circle cx="807.31" cy="1009.91" r="7.9"/><circle cx="812.69" cy="1010.81" r="7.9"/><circle cx="818.07" cy="1011.65" r="7.9"/><circle cx="823.45" cy="1012.43" r="7.9"/><circle cx="828.82" cy="1013.18" r="7.9"/><circle cx="834.20" cy="1013.93" r="7.9"/><circle cx="839.58" cy="1014.66" r="7.9"/><circle cx="844.96" cy="1015.35" r="7.9"/><circle cx="850.34" cy="1016.00" r="7.9"/><circle cx="855.72" cy="1016.60" r="7.9"/><circle cx="861.10" cy="1017.13" r="7.9"/><circle cx="866.48" cy="1017.62" r="7.9"/><circle cx="871.86" cy="1018.09" r="7.9"/><circle cx="877.24" cy="1018.53" r="7.9"/><circle cx="882.61" cy="1018.94" r="7.9"/><circle cx="887.99" cy="1019.31" r="7.9"/><circle cx="893.37" cy="1019.65" r="7.9"/><circle cx="898.75" cy="1019.95" r="7.9"/><circle cx="904.13" cy="1020.22" r="7.9"/><circle cx="909.51" cy="1020.48" r="7.9"/><circle cx="914.89" cy="1020.73" r="7.9"/><circle cx="920.27" cy="1020.98" r="7.9"/><circle cx="925.65" cy="1021.21" r="7.9"/><circle cx="931.03" cy="1021.42" r="7.9"/><circle cx="936.40" cy="1021.62" r="7.9"/><circle cx="941.78" cy="1021.80" r="7.9"/><circle cx="947.16" cy="1021.96" r="7.9"/><circle cx="952.54" cy="1022.10" r="7.9"/><circle cx="957.92" cy="1022.21" r="7.9"/><circle cx="963.30" cy="1022.29" r="7.9"/></g>
<g fill="url(#gY)"><circle cx="161.83" cy="778.33" r="6.0"/><circle cx="167.21" cy="779.89" r="6.0"/><circle cx="172.59" cy="796.21" r="6.0"/><circle cx="177.97" cy="784.58" r="6.0"/><circle cx="183.34" cy="800.73" r="6.0"/><circle cx="188.72" cy="819.13" r="6.0"/><circle cx="194.10" cy="847.09" r="6.0"/><circle cx="199.48" cy="847.33" r="6.0"/><circle cx="204.86" cy="847.62" r="6.0"/><circle cx="210.24" cy="847.95" r="6.0"/><circle cx="215.62" cy="848.30" r="6.0"/><circle cx="221.00" cy="870.70" r="6.0"/><circle cx="226.38" cy="849.17" r="6.0"/><circle cx="231.76" cy="849.73" r="6.0"/><circle cx="237.13" cy="850.35" r="6.0"/><circle cx="242.51" cy="851.03" r="6.0"/><circle cx="247.89" cy="851.76" r="6.0"/><circle cx="253.27" cy="852.52" r="6.0"/><circle cx="258.65" cy="853.33" r="6.0"/><circle cx="264.03" cy="854.15" r="6.0"/><circle cx="269.41" cy="854.99" r="6.0"/><circle cx="274.79" cy="855.86" r="6.0"/><circle cx="280.17" cy="856.80" r="6.0"/><circle cx="285.55" cy="857.80" r="6.0"/><circle cx="290.92" cy="858.84" r="6.0"/><circle cx="296.30" cy="859.92" r="6.0"/><circle cx="301.68" cy="861.02" r="6.0"/><circle cx="307.06" cy="862.15" r="6.0"/><circle cx="312.44" cy="863.28" r="6.0"/><circle cx="317.82" cy="864.42" r="6.0"/><circle cx="323.20" cy="865.54" r="6.0"/><circle cx="328.58" cy="866.65" r="6.0"/><circle cx="333.96" cy="867.72" r="6.0"/><circle cx="339.34" cy="868.77" r="6.0"/><circle cx="344.71" cy="869.76" r="6.0"/><circle cx="350.09" cy="870.70" r="6.0"/><circle cx="355.47" cy="871.57" r="6.0"/><circle cx="360.85" cy="872.39" r="6.0"/><circle cx="366.23" cy="873.19" r="6.0"/><circle cx="371.61" cy="873.97" r="6.0"/><circle cx="376.99" cy="874.76" r="6.0"/><circle cx="382.37" cy="875.56" r="6.0"/><circle cx="387.75" cy="876.36" r="6.0"/><circle cx="393.13" cy="877.14" r="6.0"/><circle cx="398.50" cy="877.92" r="6.0"/><circle cx="403.88" cy="878.68" r="6.0"/><circle cx="409.26" cy="879.44" r="6.0"/><circle cx="414.64" cy="880.19" r="6.0"/><circle cx="420.02" cy="880.94" r="6.0"/><circle cx="425.40" cy="881.68" r="6.0"/><circle cx="430.78" cy="882.42" r="6.0"/><circle cx="436.16" cy="883.15" r="6.0"/><circle cx="441.54" cy="883.89" r="6.0"/><circle cx="446.92" cy="884.61" r="6.0"/><circle cx="452.29" cy="885.34" r="6.0"/><circle cx="457.67" cy="886.07" r="6.0"/><circle cx="463.05" cy="886.79" r="6.0"/><circle cx="468.43" cy="887.52" r="6.0"/><circle cx="473.81" cy="888.24" r="6.0"/><circle cx="479.19" cy="888.96" r="6.0"/><circle cx="484.57" cy="889.69" r="6.0"/><circle cx="489.95" cy="890.44" r="6.0"/><circle cx="495.33" cy="891.19" r="6.0"/><circle cx="500.71" cy="891.95" r="6.0"/><circle cx="506.08" cy="892.72" r="6.0"/><circle cx="511.46" cy="893.49" r="6.0"/><circle cx="516.84" cy="894.26" r="6.0"/><circle cx="522.22" cy="895.03" r="6.0"/><circle cx="527.60" cy="895.80" r="6.0"/><circle cx="532.98" cy="896.56" r="6.0"/><circle cx="538.36" cy="897.31" r="6.0"/><circle cx="543.74" cy="898.05" r="6.0"/><circle cx="549.12" cy="898.77" r="6.0"/><circle cx="554.50" cy="899.48" r="6.0"/><circle cx="559.88" cy="900.17" r="6.0"/><circle cx="565.25" cy="900.83" r="6.0"/><circle cx="570.63" cy="901.47" r="6.0"/><circle cx="576.01" cy="902.09" r="6.0"/><circle cx="581.39" cy="902.67" r="6.0"/><circle cx="586.77" cy="903.23" r="6.0"/><circle cx="592.15" cy="903.75" r="6.0"/><circle cx="597.53" cy="904.25" r="6.0"/><circle cx="602.91" cy="904.72" r="6.0"/><circle cx="608.29" cy="905.17" r="6.0"/><circle cx="613.66" cy="905.61" r="6.0"/><circle cx="619.04" cy="906.03" r="6.0"/><circle cx="624.42" cy="906.45" r="6.0"/><circle cx="629.80" cy="906.86" r="6.0"/><circle cx="635.18" cy="907.27" r="6.0"/><circle cx="640.56" cy="907.68" r="6.0"/><circle cx="645.94" cy="908.09" r="6.0"/><circle cx="651.32" cy="908.52" r="6.0"/><circle cx="656.70" cy="908.96" r="6.0"/><circle cx="662.08" cy="909.41" r="6.0"/><circle cx="667.45" cy="909.88" r="6.0"/><circle cx="672.83" cy="910.37" r="6.0"/><circle cx="678.21" cy="910.87" r="6.0"/><circle cx="683.59" cy="911.37" r="6.0"/><circle cx="688.97" cy="911.88" r="6.0"/><circle cx="694.35" cy="912.38" r="6.0"/><circle cx="699.73" cy="912.88" r="6.0"/><circle cx="705.11" cy="913.39" r="6.0"/><circle cx="710.49" cy="913.90" r="6.0"/><circle cx="715.87" cy="914.40" r="6.0"/><circle cx="721.24" cy="914.88" r="6.0"/><circle cx="726.62" cy="915.33" r="6.0"/><circle cx="732.00" cy="915.76" r="6.0"/><circle cx="737.38" cy="916.17" r="6.0"/><circle cx="742.76" cy="916.57" r="6.0"/><circle cx="748.14" cy="916.96" r="6.0"/><circle cx="753.52" cy="917.34" r="6.0"/><circle cx="758.90" cy="917.71" r="6.0"/><circle cx="764.28" cy="918.08" r="6.0"/><circle cx="769.66" cy="918.45" r="6.0"/><circle cx="775.03" cy="918.82" r="6.0"/><circle cx="780.41" cy="919.19" r="6.0"/><circle cx="785.79" cy="919.56" r="6.0"/><circle cx="791.17" cy="919.95" r="6.0"/><circle cx="796.55" cy="920.34" r="6.0"/><circle cx="801.93" cy="920.75" r="6.0"/><circle cx="807.31" cy="921.17" r="6.0"/><circle cx="812.69" cy="921.61" r="6.0"/><circle cx="818.07" cy="922.05" r="6.0"/><circle cx="823.45" cy="922.51" r="6.0"/><circle cx="828.82" cy="922.97" r="6.0"/><circle cx="834.20" cy="923.43" r="6.0"/><circle cx="839.58" cy="923.90" r="6.0"/><circle cx="844.96" cy="924.37" r="6.0"/><circle cx="850.34" cy="924.84" r="6.0"/><circle cx="855.72" cy="925.31" r="6.0"/><circle cx="861.10" cy="925.77" r="6.0"/><circle cx="866.48" cy="926.23" r="6.0"/><circle cx="871.86" cy="926.68" r="6.0"/><circle cx="877.24" cy="927.12" r="6.0"/><circle cx="882.61" cy="927.55" r="6.0"/><circle cx="887.99" cy="927.97" r="6.0"/><circle cx="893.37" cy="928.37" r="6.0"/><circle cx="898.75" cy="928.76" r="6.0"/><circle cx="904.13" cy="929.13" r="6.0"/><circle cx="909.51" cy="929.49" r="6.0"/><circle cx="914.89" cy="929.85" r="6.0"/><circle cx="920.27" cy="930.20" r="6.0"/><circle cx="925.65" cy="930.53" r="6.0"/><circle cx="931.03" cy="930.87" r="6.0"/><circle cx="936.40" cy="931.19" r="6.0"/><circle cx="941.78" cy="931.51" r="6.0"/><circle cx="947.16" cy="931.81" r="6.0"/><circle cx="952.54" cy="932.11" r="6.0"/><circle cx="957.92" cy="932.41" r="6.0"/><circle cx="963.30" cy="932.69" r="6.0"/></g>
</g>
<rect x="156.45" y="695.50" width="806.85" height="434.10" fill="none" stroke="#000" stroke-width="3.0"/>
<path d="M425.40,695.50v15.4M425.40,1129.60v-15.4M694.35,695.50v15.4M694.35,1129.60v-15.4M290.92,695.50v7.2M290.92,1129.60v-7.2M559.88,695.50v7.2M559.88,1129.60v-7.2M828.82,695.50v7.2M828.82,1129.60v-7.2M156.45,1042.78h16.0M963.30,1042.78h-16.0M156.45,955.96h16.0M963.30,955.96h-16.0M156.45,869.14h16.0M963.30,869.14h-16.0M156.45,782.32h16.0M963.30,782.32h-16.0M156.45,1086.19h7.9M963.30,1086.19h-7.9M156.45,999.37h7.9M963.30,999.37h-7.9M156.45,912.55h7.9M963.30,912.55h-7.9M156.45,825.73h7.9M963.30,825.73h-7.9M156.45,738.91h7.9M963.30,738.91h-7.9" stroke="#000" stroke-width="3.0" fill="none"/>
<text x="156.45" y="1179.60" font-size="43" text-anchor="middle" >0</text>
<text x="425.40" y="1179.60" font-size="43" text-anchor="middle" >50</text>
<text x="694.35" y="1179.60" font-size="43" text-anchor="middle" >100</text>
<text x="963.30" y="1179.60" font-size="43" text-anchor="middle" >150</text>
<text x="137.30" y="1142.40" font-size="43" text-anchor="end" >0</text>
<text x="137.30" y="1055.58" font-size="43" text-anchor="end" >50</text>
<text x="137.30" y="968.76" font-size="43" text-anchor="end" >100</text>
<text x="137.30" y="881.94" font-size="43" text-anchor="end" >150</text>
<text x="137.30" y="795.12" font-size="43" text-anchor="end" >200</text>
<text x="137.30" y="708.30" font-size="43" text-anchor="end" >250</text>
<text x="167.50" y="673.80" font-size="57" text-anchor="start" >(b)</text>
<text x="559.40" y="1249.20" font-size="43.3" text-anchor="middle" >cycle number</text>
<text x="213.00" y="757.40" font-size="37.5" text-anchor="start" >25 °C</text>
<text transform="translate(40.9,912.2) rotate(-90)" font-size="43" text-anchor="middle"><tspan font-style="italic">q</tspan><tspan font-size="28" dy="12">dis</tspan><tspan dy="-12"> / mAh g</tspan><tspan font-size="28" dy="-17">-1</tspan></text>
<g fill="url(#gK)">
<circle cx="163.55" cy="1409.30" r="5.9"/><circle cx="171.09" cy="1462.00" r="5.9"/><circle cx="178.64" cy="1462.60" r="5.9"/><circle cx="186.18" cy="1463.00" r="5.9"/><circle cx="193.73" cy="1463.00" r="5.9"/><circle cx="201.28" cy="1466.00" r="5.9"/><circle cx="208.82" cy="1465.40" r="5.9"/><circle cx="216.37" cy="1466.40" r="5.9"/><circle cx="223.91" cy="1467.05" r="5.9"/><circle cx="231.46" cy="1467.69" r="5.9"/><circle cx="239.01" cy="1468.34" r="5.9"/><circle cx="246.55" cy="1468.99" r="5.9"/><circle cx="254.10" cy="1469.64" r="5.9"/><circle cx="261.64" cy="1470.28" r="5.9"/><circle cx="269.19" cy="1470.93" r="5.9"/><circle cx="276.74" cy="1471.58" r="5.9"/><circle cx="284.28" cy="1472.22" r="5.9"/><circle cx="291.83" cy="1472.87" r="5.9"/><circle cx="299.37" cy="1473.52" r="5.9"/><circle cx="306.92" cy="1474.16" r="5.9"/><circle cx="314.47" cy="1474.81" r="5.9"/><circle cx="322.01" cy="1475.46" r="5.9"/><circle cx="329.56" cy="1476.11" r="5.9"/><circle cx="337.10" cy="1476.75" r="5.9"/><circle cx="344.65" cy="1477.40" r="5.9"/><circle cx="352.20" cy="1481.80" r="5.9"/><circle cx="359.74" cy="1479.50" r="5.9"/><circle cx="367.29" cy="1480.20" r="5.9"/><circle cx="374.83" cy="1480.80" r="5.9"/><circle cx="382.38" cy="1481.20" r="5.9"/><circle cx="389.93" cy="1481.50" r="5.9"/><circle cx="397.47" cy="1486.20" r="5.9"/><circle cx="405.02" cy="1482.60" r="5.9"/><circle cx="412.56" cy="1483.22" r="5.9"/><circle cx="420.11" cy="1483.83" r="5.9"/><circle cx="427.66" cy="1484.45" r="5.9"/><circle cx="435.20" cy="1485.06" r="5.9"/><circle cx="442.75" cy="1485.68" r="5.9"/><circle cx="450.29" cy="1486.30" r="5.9"/><circle cx="457.84" cy="1486.91" r="5.9"/><circle cx="465.39" cy="1487.53" r="5.9"/><circle cx="472.93" cy="1488.14" r="5.9"/><circle cx="480.48" cy="1488.76" r="5.9"/><circle cx="488.02" cy="1489.38" r="5.9"/><circle cx="495.57" cy="1489.99" r="5.9"/><circle cx="503.12" cy="1490.61" r="5.9"/><circle cx="510.66" cy="1491.22" r="5.9"/><circle cx="518.21" cy="1491.84" r="5.9"/><circle cx="525.75" cy="1492.46" r="5.9"/><circle cx="533.30" cy="1493.07" r="5.9"/><circle cx="540.85" cy="1493.69" r="5.9"/><circle cx="548.39" cy="1494.30" r="5.9"/><circle cx="555.94" cy="1494.92" r="5.9"/><circle cx="563.48" cy="1495.54" r="5.9"/><circle cx="571.03" cy="1496.15" r="5.9"/><circle cx="578.58" cy="1496.77" r="5.9"/><circle cx="586.12" cy="1497.38" r="5.9"/><circle cx="593.67" cy="1498.00" r="5.9"/><circle cx="601.21" cy="1498.43" r="5.9"/><circle cx="608.76" cy="1498.85" r="5.9"/><circle cx="616.31" cy="1499.28" r="5.9"/><circle cx="623.85" cy="1499.71" r="5.9"/><circle cx="631.40" cy="1500.13" r="5.9"/><circle cx="638.94" cy="1500.56" r="5.9"/><circle cx="646.49" cy="1500.99" r="5.9"/><circle cx="654.04" cy="1501.41" r="5.9"/><circle cx="661.58" cy="1501.84" r="5.9"/><circle cx="669.13" cy="1502.27" r="5.9"/><circle cx="676.67" cy="1502.69" r="5.9"/><circle cx="684.22" cy="1503.12" r="5.9"/><circle cx="691.77" cy="1503.55" r="5.9"/><circle cx="699.31" cy="1503.97" r="5.9"/><circle cx="706.86" cy="1504.40" r="5.9"/><circle cx="714.40" cy="1504.93" r="5.9"/><circle cx="721.95" cy="1505.47" r="5.9"/><circle cx="729.50" cy="1506.00" r="5.9"/><circle cx="737.04" cy="1506.53" r="5.9"/><circle cx="744.59" cy="1507.07" r="5.9"/><circle cx="752.13" cy="1507.60" r="5.9"/><circle cx="759.68" cy="1511.00" r="5.9"/><circle cx="767.23" cy="1511.60" r="5.9"/><circle cx="774.77" cy="1512.09" r="5.9"/><circle cx="782.32" cy="1512.58" r="5.9"/><circle cx="789.86" cy="1513.07" r="5.9"/><circle cx="797.41" cy="1513.56" r="5.9"/><circle cx="804.96" cy="1514.05" r="5.9"/><circle cx="812.50" cy="1514.55" r="5.9"/><circle cx="820.05" cy="1515.04" r="5.9"/><circle cx="827.59" cy="1515.53" r="5.9"/><circle cx="835.14" cy="1516.02" r="5.9"/><circle cx="842.69" cy="1516.51" r="5.9"/><circle cx="850.23" cy="1517.00" r="5.9"/><circle cx="857.78" cy="1519.00" r="5.9"/><circle cx="865.32" cy="1518.00" r="5.9"/><circle cx="872.87" cy="1517.00" r="5.9"/><circle cx="880.42" cy="1518.00" r="5.9"/><circle cx="887.96" cy="1518.52" r="5.9"/><circle cx="895.51" cy="1519.04" r="5.9"/><circle cx="903.05" cy="1519.56" r="5.9"/><circle cx="910.60" cy="1520.08" r="5.9"/><circle cx="918.15" cy="1520.60" r="5.9"/><circle cx="925.69" cy="1442.00" r="5.9"/></g>
<rect x="155.60" y="1355.40" width="807.00" height="433.50" fill="none" stroke="#000" stroke-width="3.0"/>
<path d="M306.92,1355.40v15.4M306.92,1788.90v-15.4M457.84,1355.40v15.4M457.84,1788.90v-15.4M608.76,1355.40v15.4M608.76,1788.90v-15.4M759.68,1355.40v15.4M759.68,1788.90v-15.4M910.60,1355.40v15.4M910.60,1788.90v-15.4M231.46,1355.40v7.2M231.46,1788.90v-7.2M382.38,1355.40v7.2M382.38,1788.90v-7.2M533.30,1355.40v7.2M533.30,1788.90v-7.2M684.22,1355.40v7.2M684.22,1788.90v-7.2M835.14,1355.40v7.2M835.14,1788.90v-7.2M155.60,1702.20h16.0M962.60,1702.20h-16.0M155.60,1615.50h16.0M962.60,1615.50h-16.0M155.60,1528.80h16.0M962.60,1528.80h-16.0M155.60,1442.10h16.0M962.60,1442.10h-16.0M155.60,1745.55h7.9M962.60,1745.55h-7.9M155.60,1658.85h7.9M962.60,1658.85h-7.9M155.60,1572.15h7.9M962.60,1572.15h-7.9M155.60,1485.45h7.9M962.60,1485.45h-7.9M155.60,1398.75h7.9M962.60,1398.75h-7.9" stroke="#000" stroke-width="3.0" fill="none"/>
<text x="156.00" y="1839.40" font-size="43" text-anchor="middle" >0</text>
<text x="306.92" y="1839.40" font-size="43" text-anchor="middle" >20</text>
<text x="457.84" y="1839.40" font-size="43" text-anchor="middle" >40</text>
<text x="608.76" y="1839.40" font-size="43" text-anchor="middle" >60</text>
<text x="759.68" y="1839.40" font-size="43" text-anchor="middle" >80</text>
<text x="910.60" y="1839.40" font-size="43" text-anchor="middle" >100</text>
<text x="137.30" y="1801.70" font-size="43" text-anchor="end" >0</text>
<text x="137.30" y="1715.00" font-size="43" text-anchor="end" >50</text>
<text x="137.30" y="1628.30" font-size="43" text-anchor="end" >100</text>
<text x="137.30" y="1541.60" font-size="43" text-anchor="end" >150</text>
<text x="137.30" y="1454.90" font-size="43" text-anchor="end" >200</text>
<text x="137.30" y="1368.20" font-size="43" text-anchor="end" >250</text>
<text x="167.50" y="1331.40" font-size="57" text-anchor="start" >(c)</text>
<text x="559.20" y="1909.00" font-size="43.3" text-anchor="middle" >cycle number</text>
<text x="212.50" y="1414.60" font-size="37.5" text-anchor="start" >45 °C</text>
<text transform="translate(40.9,1570.7) rotate(-90)" font-size="43" text-anchor="middle"><tspan font-style="italic">q</tspan><tspan font-size="28" dy="12">dis</tspan><tspan dy="-12"> / mAh g</tspan><tspan font-size="28" dy="-17">-1</tspan></text>
<text x="785.30" y="1436.60" font-size="30.5" text-anchor="start" >C/20</text>
<text x="730.20" y="1487.00" font-size="30.5" text-anchor="start" >C/2</text>
<path d="M862,1429.5Q885,1429.3 903,1434" stroke="#000" stroke-width="1.6" fill="none"/>
<path d="M908.6,1435.5L899.2,1437.8L901.5,1429.8Z" fill="#000"/>
<path d="M783.6,1475.6Q812,1480 826.5,1498" stroke="#000" stroke-width="1.6" fill="none"/>
<path d="M829.3,1502.2L820.2,1497.6L827.2,1493.2Z" fill="#000"/>
</svg></body></html>
